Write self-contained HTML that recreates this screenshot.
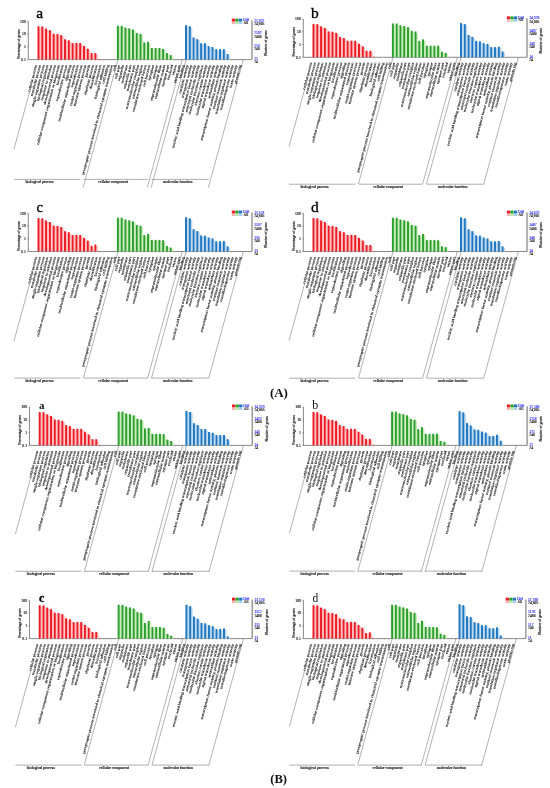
<!DOCTYPE html>
<html><head><meta charset="utf-8"><title>GO classification</title>
<style>
html,body{margin:0;padding:0;background:#fff;}
body{width:550px;height:788px;overflow:hidden;}
svg{display:block;}
text{font-family:"Liberation Serif","Times New Roman",serif;fill:#111;}
.lt{fill:#000;stroke:#000;stroke-width:0.3px;}
.lt2{fill:#111;}
.ax{stroke:#6b6b6b;stroke-width:0.8;}
.axr{stroke:#8a8a8a;stroke-width:1.3;}
.tk{font-size:3.8px;stroke:#111;stroke-width:0.12px;}
.yt{font-size:3.7px;stroke:#111;stroke-width:0.15px;}
.rb{font-size:3.7px;fill:#2b2bff;stroke:#2b2bff;stroke-width:0.12px;}
.rk{font-size:3.7px;fill:#111;stroke:#111;stroke-width:0.12px;}
.xl{font-size:4.48px;fill:#1a1a1a;stroke:#1a1a1a;stroke-width:0.16px;}
.tm{stroke:#999;stroke-width:0.4;}
.br{stroke:#555;stroke-width:0.45;}
.hl{stroke:#777;stroke-width:0.6;}
.ct{font-size:3.9px;stroke:#111;stroke-width:0.15px;}
.big{font-size:13px;font-weight:bold;fill:#111;}
</style></head>
<body>
<svg width="550" height="788" viewBox="0 0 550 788">
<defs><filter id="soft" x="-5%" y="-5%" width="110%" height="110%"><feGaussianBlur stdDeviation="0.28"/></filter></defs>
<rect width="550" height="788" fill="#fff"/>
<g>
<text x="36.2" y="17.9" font-size="15.5" font-weight="normal" class="lt">a</text>
<line x1="28.3" y1="21.3" x2="28.3" y2="59.6" class="ax"/>
<line x1="28.3" y1="59.6" x2="252" y2="59.6" class="ax"/>
<line x1="252" y1="20.5" x2="252" y2="59.6" class="axr"/>
<text x="25.8" y="22.6" class="tk" text-anchor="end">100</text>
<line x1="27.3" y1="21.3" x2="28.3" y2="21.3" class="ax"/>
<text x="25.8" y="35.37" class="tk" text-anchor="end">10</text>
<line x1="27.3" y1="34.07" x2="28.3" y2="34.07" class="ax"/>
<text x="25.8" y="48.13" class="tk" text-anchor="end">1</text>
<line x1="27.3" y1="46.83" x2="28.3" y2="46.83" class="ax"/>
<text x="25.8" y="60.9" class="tk" text-anchor="end">0.1</text>
<line x1="27.3" y1="59.6" x2="28.3" y2="59.6" class="ax"/>
<text transform="translate(19.9,44.1) rotate(-90)" class="yt" text-anchor="middle">Percentage of genes</text>
<text x="254.2" y="21.7" class="rb">21,022</text>
<text x="254.2" y="24.9" class="rk">24,865</text>
<text x="254.2" y="34.47" class="rb">2102</text>
<text x="254.2" y="37.67" class="rk">2486</text>
<text x="254.2" y="47.23" class="rb">210</text>
<text x="254.2" y="50.43" class="rk">248</text>
<text x="254.2" y="60" class="rb">21</text>
<text x="254.2" y="63.2" class="rk">24</text>
<text transform="translate(267.3,43.1) rotate(-90)" class="yt" text-anchor="middle">Number of genes</text>
<rect x="231.8" y="18.7" width="3.3" height="3" fill="#ee1c25"/>
<rect x="231.8" y="21.7" width="3.3" height="2.4" fill="#f7b0b4"/>
<rect x="235.35" y="18.7" width="3.3" height="3" fill="#2ca02c"/>
<rect x="235.35" y="21.7" width="3.3" height="2.4" fill="#b6e6a6"/>
<rect x="238.9" y="18.7" width="3.3" height="3" fill="#1f78c1"/>
<rect x="238.9" y="21.7" width="3.3" height="2.4" fill="#a9cdee"/>
<text x="243" y="21" class="rb">Diff</text>
<text x="243.6" y="23.7" class="rk">All</text>
<rect x="39.4" y="27.4" width="1.6" height="32.2" fill="#f9c4c4"/>
<rect x="37.5" y="26.2" width="2.0" height="33.4" fill="#ee1c25"/>
<rect x="43.19" y="27.6" width="1.6" height="32" fill="#f9c4c4"/>
<rect x="41.29" y="26.4" width="2.0" height="33.2" fill="#ee1c25"/>
<rect x="46.98" y="29.8" width="1.6" height="29.8" fill="#f9c4c4"/>
<rect x="45.08" y="28.6" width="2.0" height="31" fill="#ee1c25"/>
<rect x="50.77" y="31.4" width="1.6" height="28.2" fill="#f9c4c4"/>
<rect x="48.87" y="30.2" width="2.0" height="29.4" fill="#ee1c25"/>
<rect x="54.56" y="34.9" width="1.6" height="24.7" fill="#f9c4c4"/>
<rect x="52.66" y="33.7" width="2.0" height="25.9" fill="#ee1c25"/>
<rect x="58.35" y="35.2" width="1.6" height="24.4" fill="#f9c4c4"/>
<rect x="56.45" y="34" width="2.0" height="25.6" fill="#ee1c25"/>
<rect x="62.14" y="36.3" width="1.6" height="23.3" fill="#f9c4c4"/>
<rect x="60.24" y="35.1" width="2.0" height="24.5" fill="#ee1c25"/>
<rect x="65.93" y="40.5" width="1.6" height="19.1" fill="#f9c4c4"/>
<rect x="64.03" y="39.3" width="2.0" height="20.3" fill="#ee1c25"/>
<rect x="69.72" y="41.5" width="1.6" height="18.1" fill="#f9c4c4"/>
<rect x="67.82" y="40.3" width="2.0" height="19.3" fill="#ee1c25"/>
<rect x="73.51" y="44.3" width="1.6" height="15.3" fill="#f9c4c4"/>
<rect x="71.61" y="43.1" width="2.0" height="16.5" fill="#ee1c25"/>
<rect x="77.3" y="44.1" width="1.6" height="15.5" fill="#f9c4c4"/>
<rect x="75.4" y="42.9" width="2.0" height="16.7" fill="#ee1c25"/>
<rect x="81.09" y="44.3" width="1.6" height="15.3" fill="#f9c4c4"/>
<rect x="79.19" y="43.1" width="2.0" height="16.5" fill="#ee1c25"/>
<rect x="84.88" y="47.2" width="1.6" height="12.4" fill="#f9c4c4"/>
<rect x="82.98" y="46" width="2.0" height="13.6" fill="#ee1c25"/>
<rect x="88.67" y="49.9" width="1.6" height="9.7" fill="#f9c4c4"/>
<rect x="86.77" y="48.7" width="2.0" height="10.9" fill="#ee1c25"/>
<rect x="92.46" y="54.3" width="1.6" height="5.3" fill="#f9c4c4"/>
<rect x="90.56" y="53.1" width="2.0" height="6.5" fill="#ee1c25"/>
<rect x="96.25" y="54.3" width="1.6" height="5.3" fill="#f9c4c4"/>
<rect x="94.35" y="53.1" width="2.0" height="6.5" fill="#ee1c25"/>
<rect x="100.04" y="59.3" width="1.6" height="0.3" fill="#f9c4c4"/>
<rect x="98.14" y="59.1" width="2.0" height="0.5" fill="#ee1c25"/>
<line x1="38.5" y1="59.6" x2="38.5" y2="60.6" class="tm"/>
<line x1="42.29" y1="59.6" x2="42.29" y2="60.6" class="tm"/>
<line x1="46.08" y1="59.6" x2="46.08" y2="60.6" class="tm"/>
<line x1="49.87" y1="59.6" x2="49.87" y2="60.6" class="tm"/>
<line x1="53.66" y1="59.6" x2="53.66" y2="60.6" class="tm"/>
<line x1="57.45" y1="59.6" x2="57.45" y2="60.6" class="tm"/>
<line x1="61.24" y1="59.6" x2="61.24" y2="60.6" class="tm"/>
<line x1="65.03" y1="59.6" x2="65.03" y2="60.6" class="tm"/>
<line x1="68.82" y1="59.6" x2="68.82" y2="60.6" class="tm"/>
<line x1="72.61" y1="59.6" x2="72.61" y2="60.6" class="tm"/>
<line x1="76.4" y1="59.6" x2="76.4" y2="60.6" class="tm"/>
<line x1="80.19" y1="59.6" x2="80.19" y2="60.6" class="tm"/>
<line x1="83.98" y1="59.6" x2="83.98" y2="60.6" class="tm"/>
<line x1="87.77" y1="59.6" x2="87.77" y2="60.6" class="tm"/>
<line x1="91.56" y1="59.6" x2="91.56" y2="60.6" class="tm"/>
<line x1="95.35" y1="59.6" x2="95.35" y2="60.6" class="tm"/>
<line x1="99.14" y1="59.6" x2="99.14" y2="60.6" class="tm"/>
<line x1="102.93" y1="59.6" x2="102.93" y2="60.6" class="tm"/>
<line x1="106.72" y1="59.6" x2="106.72" y2="60.6" class="tm"/>
<line x1="110.51" y1="59.6" x2="110.51" y2="60.6" class="tm"/>
<line x1="114.3" y1="59.6" x2="114.3" y2="60.6" class="tm"/>
<line x1="29.66" y1="91.6" x2="14" y2="148.98" class="br"/>
<line x1="14" y1="179.4" x2="80.4" y2="179.4" class="hl"/>
<text x="25.4" y="182.9" class="ct">biological process</text>
<rect x="118.8" y="27" width="1.6" height="32.6" fill="#cdeebc"/>
<rect x="116.9" y="25.8" width="2.0" height="33.8" fill="#2ca02c"/>
<rect x="122.57" y="27" width="1.6" height="32.6" fill="#cdeebc"/>
<rect x="120.67" y="25.8" width="2.0" height="33.8" fill="#2ca02c"/>
<rect x="126.34" y="28.8" width="1.6" height="30.8" fill="#cdeebc"/>
<rect x="124.44" y="27.6" width="2.0" height="32" fill="#2ca02c"/>
<rect x="130.11" y="29.6" width="1.6" height="30" fill="#cdeebc"/>
<rect x="128.21" y="28.4" width="2.0" height="31.2" fill="#2ca02c"/>
<rect x="133.88" y="30.7" width="1.6" height="28.9" fill="#cdeebc"/>
<rect x="131.98" y="29.5" width="2.0" height="30.1" fill="#2ca02c"/>
<rect x="137.65" y="34.3" width="1.6" height="25.3" fill="#cdeebc"/>
<rect x="135.75" y="33.1" width="2.0" height="26.5" fill="#2ca02c"/>
<rect x="141.42" y="35" width="1.6" height="24.6" fill="#cdeebc"/>
<rect x="139.52" y="33.8" width="2.0" height="25.8" fill="#2ca02c"/>
<rect x="145.19" y="43.6" width="1.6" height="16" fill="#cdeebc"/>
<rect x="143.29" y="42.4" width="2.0" height="17.2" fill="#2ca02c"/>
<rect x="148.96" y="43" width="1.6" height="16.6" fill="#cdeebc"/>
<rect x="147.06" y="41.8" width="2.0" height="17.8" fill="#2ca02c"/>
<rect x="152.73" y="49.2" width="1.6" height="10.4" fill="#cdeebc"/>
<rect x="150.83" y="48" width="2.0" height="11.6" fill="#2ca02c"/>
<rect x="156.5" y="49.2" width="1.6" height="10.4" fill="#cdeebc"/>
<rect x="154.6" y="48" width="2.0" height="11.6" fill="#2ca02c"/>
<rect x="160.27" y="49.2" width="1.6" height="10.4" fill="#cdeebc"/>
<rect x="158.37" y="48" width="2.0" height="11.6" fill="#2ca02c"/>
<rect x="164.04" y="50.1" width="1.6" height="9.5" fill="#cdeebc"/>
<rect x="162.14" y="48.9" width="2.0" height="10.7" fill="#2ca02c"/>
<rect x="167.81" y="54.3" width="1.6" height="5.3" fill="#cdeebc"/>
<rect x="165.91" y="53.1" width="2.0" height="6.5" fill="#2ca02c"/>
<rect x="171.58" y="56.3" width="1.6" height="3.3" fill="#cdeebc"/>
<rect x="169.68" y="55.1" width="2.0" height="4.5" fill="#2ca02c"/>
<line x1="117.9" y1="59.6" x2="117.9" y2="60.6" class="tm"/>
<line x1="121.67" y1="59.6" x2="121.67" y2="60.6" class="tm"/>
<line x1="125.44" y1="59.6" x2="125.44" y2="60.6" class="tm"/>
<line x1="129.21" y1="59.6" x2="129.21" y2="60.6" class="tm"/>
<line x1="132.98" y1="59.6" x2="132.98" y2="60.6" class="tm"/>
<line x1="136.75" y1="59.6" x2="136.75" y2="60.6" class="tm"/>
<line x1="140.52" y1="59.6" x2="140.52" y2="60.6" class="tm"/>
<line x1="144.29" y1="59.6" x2="144.29" y2="60.6" class="tm"/>
<line x1="148.06" y1="59.6" x2="148.06" y2="60.6" class="tm"/>
<line x1="151.83" y1="59.6" x2="151.83" y2="60.6" class="tm"/>
<line x1="155.6" y1="59.6" x2="155.6" y2="60.6" class="tm"/>
<line x1="159.37" y1="59.6" x2="159.37" y2="60.6" class="tm"/>
<line x1="163.14" y1="59.6" x2="163.14" y2="60.6" class="tm"/>
<line x1="166.91" y1="59.6" x2="166.91" y2="60.6" class="tm"/>
<line x1="170.68" y1="59.6" x2="170.68" y2="60.6" class="tm"/>
<line x1="174.45" y1="59.6" x2="174.45" y2="60.6" class="tm"/>
<line x1="178.22" y1="59.6" x2="178.22" y2="60.6" class="tm"/>
<line x1="181.99" y1="59.6" x2="181.99" y2="60.6" class="tm"/>
<line x1="117.89" y1="60" x2="83.06" y2="187.6" class="br"/>
<line x1="182.2" y1="60" x2="147.26" y2="187.6" class="br"/>
<line x1="83.9" y1="179.4" x2="147.6" y2="179.4" class="hl"/>
<text x="98.2" y="182.9" class="ct">cellular component</text>
<rect x="186.9" y="26.4" width="1.6" height="33.2" fill="#bfdaf0"/>
<rect x="185" y="25.2" width="2.0" height="34.4" fill="#1f78c1"/>
<rect x="190.68" y="27.4" width="1.6" height="32.2" fill="#bfdaf0"/>
<rect x="188.78" y="26.2" width="2.0" height="33.4" fill="#1f78c1"/>
<rect x="194.46" y="38.6" width="1.6" height="21" fill="#bfdaf0"/>
<rect x="192.56" y="37.4" width="2.0" height="22.2" fill="#1f78c1"/>
<rect x="198.24" y="40.4" width="1.6" height="19.2" fill="#bfdaf0"/>
<rect x="196.34" y="39.2" width="2.0" height="20.4" fill="#1f78c1"/>
<rect x="202.02" y="44.4" width="1.6" height="15.2" fill="#bfdaf0"/>
<rect x="200.12" y="43.2" width="2.0" height="16.4" fill="#1f78c1"/>
<rect x="205.8" y="44.4" width="1.6" height="15.2" fill="#bfdaf0"/>
<rect x="203.9" y="43.2" width="2.0" height="16.4" fill="#1f78c1"/>
<rect x="209.58" y="47.4" width="1.6" height="12.2" fill="#bfdaf0"/>
<rect x="207.68" y="46.2" width="2.0" height="13.4" fill="#1f78c1"/>
<rect x="213.36" y="48.2" width="1.6" height="11.4" fill="#bfdaf0"/>
<rect x="211.46" y="47" width="2.0" height="12.6" fill="#1f78c1"/>
<rect x="217.14" y="50.4" width="1.6" height="9.2" fill="#bfdaf0"/>
<rect x="215.24" y="49.2" width="2.0" height="10.4" fill="#1f78c1"/>
<rect x="220.92" y="50.4" width="1.6" height="9.2" fill="#bfdaf0"/>
<rect x="219.02" y="49.2" width="2.0" height="10.4" fill="#1f78c1"/>
<rect x="224.7" y="50.4" width="1.6" height="9.2" fill="#bfdaf0"/>
<rect x="222.8" y="49.2" width="2.0" height="10.4" fill="#1f78c1"/>
<rect x="228.48" y="55.3" width="1.6" height="4.3" fill="#bfdaf0"/>
<rect x="226.58" y="54.1" width="2.0" height="5.5" fill="#1f78c1"/>
<line x1="186" y1="59.6" x2="186" y2="60.6" class="tm"/>
<line x1="189.78" y1="59.6" x2="189.78" y2="60.6" class="tm"/>
<line x1="193.56" y1="59.6" x2="193.56" y2="60.6" class="tm"/>
<line x1="197.34" y1="59.6" x2="197.34" y2="60.6" class="tm"/>
<line x1="201.12" y1="59.6" x2="201.12" y2="60.6" class="tm"/>
<line x1="204.9" y1="59.6" x2="204.9" y2="60.6" class="tm"/>
<line x1="208.68" y1="59.6" x2="208.68" y2="60.6" class="tm"/>
<line x1="212.46" y1="59.6" x2="212.46" y2="60.6" class="tm"/>
<line x1="216.24" y1="59.6" x2="216.24" y2="60.6" class="tm"/>
<line x1="220.02" y1="59.6" x2="220.02" y2="60.6" class="tm"/>
<line x1="223.8" y1="59.6" x2="223.8" y2="60.6" class="tm"/>
<line x1="227.58" y1="59.6" x2="227.58" y2="60.6" class="tm"/>
<line x1="231.36" y1="59.6" x2="231.36" y2="60.6" class="tm"/>
<line x1="235.14" y1="59.6" x2="235.14" y2="60.6" class="tm"/>
<line x1="238.92" y1="59.6" x2="238.92" y2="60.6" class="tm"/>
<line x1="242.7" y1="59.6" x2="242.7" y2="60.6" class="tm"/>
<line x1="185.99" y1="60" x2="151.16" y2="187.6" class="br"/>
<line x1="243.3" y1="60" x2="208.36" y2="187.6" class="br"/>
<line x1="151.5" y1="179.4" x2="208.7" y2="179.4" class="hl"/>
<text x="163" y="182.9" class="ct">molecular function</text>
<g filter="url(#soft)">
<text transform="translate(37,65.2) rotate(-75.2) scale(1,0.72)" class="xl" text-anchor="end">cellular process</text>
<text transform="translate(40.79,65.2) rotate(-75.2) scale(1,0.72)" class="xl" text-anchor="end">metabolic process</text>
<text transform="translate(44.58,65.2) rotate(-75.2) scale(1,0.72)" class="xl" text-anchor="end">single-organism process</text>
<text transform="translate(48.37,65.2) rotate(-75.2) scale(1,0.72)" class="xl" text-anchor="end">biological regulation</text>
<text transform="translate(52.16,65.2) rotate(-75.2) scale(1,0.72)" class="xl" text-anchor="end">response to stimulus</text>
<text transform="translate(55.95,65.2) rotate(-75.2) scale(1,0.72)" class="xl" text-anchor="end">developmental process</text>
<text transform="translate(59.74,65.2) rotate(-75.2) scale(1,0.72)" class="xl" text-anchor="end">cellular component organization or biogenesis</text>
<text transform="translate(63.53,65.2) rotate(-75.2) scale(1,0.72)" class="xl" text-anchor="end">localization</text>
<text transform="translate(67.32,65.2) rotate(-75.2) scale(1,0.72)" class="xl" text-anchor="end">reproductive process</text>
<text transform="translate(71.11,65.2) rotate(-75.2) scale(1,0.72)" class="xl" text-anchor="end">signaling</text>
<text transform="translate(74.9,65.2) rotate(-75.2) scale(1,0.72)" class="xl" text-anchor="end">multicellular organismal process</text>
<text transform="translate(78.69,65.2) rotate(-75.2) scale(1,0.72)" class="xl" text-anchor="end">reproduction</text>
<text transform="translate(82.48,65.2) rotate(-75.2) scale(1,0.72)" class="xl" text-anchor="end">multi-organism process</text>
<text transform="translate(86.27,65.2) rotate(-75.2) scale(1,0.72)" class="xl" text-anchor="end">immune system process</text>
<text transform="translate(90.06,65.2) rotate(-75.2) scale(1,0.72)" class="xl" text-anchor="end">growth</text>
<text transform="translate(93.85,65.2) rotate(-75.2) scale(1,0.72)" class="xl" text-anchor="end">rhythmic process</text>
<text transform="translate(97.64,65.2) rotate(-75.2) scale(1,0.72)" class="xl" text-anchor="end">detoxification</text>
<text transform="translate(101.43,65.2) rotate(-75.2) scale(1,0.72)" class="xl" text-anchor="end">locomotion</text>
<text transform="translate(105.22,65.2) rotate(-75.2) scale(1,0.72)" class="xl" text-anchor="end">biological adhesion</text>
<text transform="translate(109.01,65.2) rotate(-75.2) scale(1,0.72)" class="xl" text-anchor="end">cell killing</text>
<text transform="translate(112.8,65.2) rotate(-75.2) scale(1,0.72)" class="xl" text-anchor="end">presynaptic process involved in chemical synaptic transmission</text>
<text transform="translate(116.4,65.2) rotate(-75.2) scale(1,0.72)" class="xl" text-anchor="end">cell</text>
<text transform="translate(120.17,65.2) rotate(-75.2) scale(1,0.72)" class="xl" text-anchor="end">cell part</text>
<text transform="translate(123.94,65.2) rotate(-75.2) scale(1,0.72)" class="xl" text-anchor="end">organelle</text>
<text transform="translate(127.71,65.2) rotate(-75.2) scale(1,0.72)" class="xl" text-anchor="end">membrane</text>
<text transform="translate(131.48,65.2) rotate(-75.2) scale(1,0.72)" class="xl" text-anchor="end">organelle part</text>
<text transform="translate(135.25,65.2) rotate(-75.2) scale(1,0.72)" class="xl" text-anchor="end">membrane part</text>
<text transform="translate(139.02,65.2) rotate(-75.2) scale(1,0.72)" class="xl" text-anchor="end">macromolecular complex</text>
<text transform="translate(142.79,65.2) rotate(-75.2) scale(1,0.72)" class="xl" text-anchor="end">extracellular region</text>
<text transform="translate(146.56,65.2) rotate(-75.2) scale(1,0.72)" class="xl" text-anchor="end">membrane-enclosed lumen</text>
<text transform="translate(150.33,65.2) rotate(-75.2) scale(1,0.72)" class="xl" text-anchor="end">cell junction</text>
<text transform="translate(154.1,65.2) rotate(-75.2) scale(1,0.72)" class="xl" text-anchor="end">symplast</text>
<text transform="translate(157.87,65.2) rotate(-75.2) scale(1,0.72)" class="xl" text-anchor="end">synapse</text>
<text transform="translate(161.64,65.2) rotate(-75.2) scale(1,0.72)" class="xl" text-anchor="end">supramolecular fiber</text>
<text transform="translate(165.41,65.2) rotate(-75.2) scale(1,0.72)" class="xl" text-anchor="end">extracellular matrix</text>
<text transform="translate(169.18,65.2) rotate(-75.2) scale(1,0.72)" class="xl" text-anchor="end">synapse part</text>
<text transform="translate(172.95,65.2) rotate(-75.2) scale(1,0.72)" class="xl" text-anchor="end">nucleoid</text>
<text transform="translate(176.72,65.2) rotate(-75.2) scale(1,0.72)" class="xl" text-anchor="end">virion</text>
<text transform="translate(180.49,65.2) rotate(-75.2) scale(1,0.72)" class="xl" text-anchor="end">virion part</text>
<text transform="translate(184.5,65.2) rotate(-75.2) scale(1,0.72)" class="xl" text-anchor="end">binding</text>
<text transform="translate(188.28,65.2) rotate(-75.2) scale(1,0.72)" class="xl" text-anchor="end">catalytic activity</text>
<text transform="translate(192.06,65.2) rotate(-75.2) scale(1,0.72)" class="xl" text-anchor="end">transporter activity</text>
<text transform="translate(195.84,65.2) rotate(-75.2) scale(1,0.72)" class="xl" text-anchor="end">nucleic acid binding transcription factor activity</text>
<text transform="translate(199.62,65.2) rotate(-75.2) scale(1,0.72)" class="xl" text-anchor="end">structural molecule activity</text>
<text transform="translate(203.4,65.2) rotate(-75.2) scale(1,0.72)" class="xl" text-anchor="end">molecular function regulator</text>
<text transform="translate(207.18,65.2) rotate(-75.2) scale(1,0.72)" class="xl" text-anchor="end">electron carrier activity</text>
<text transform="translate(210.96,65.2) rotate(-75.2) scale(1,0.72)" class="xl" text-anchor="end">molecular transducer activity</text>
<text transform="translate(214.74,65.2) rotate(-75.2) scale(1,0.72)" class="xl" text-anchor="end">signal transducer activity</text>
<text transform="translate(218.52,65.2) rotate(-75.2) scale(1,0.72)" class="xl" text-anchor="end">antioxidant activity</text>
<text transform="translate(222.3,65.2) rotate(-75.2) scale(1,0.72)" class="xl" text-anchor="end">transcription factor activity, protein binding</text>
<text transform="translate(226.08,65.2) rotate(-75.2) scale(1,0.72)" class="xl" text-anchor="end">nutrient reservoir activity</text>
<text transform="translate(229.86,65.2) rotate(-75.2) scale(1,0.72)" class="xl" text-anchor="end">translation regulator activity</text>
<text transform="translate(233.64,65.2) rotate(-75.2) scale(1,0.72)" class="xl" text-anchor="end">metallochaperone activity</text>
<text transform="translate(237.42,65.2) rotate(-75.2) scale(1,0.72)" class="xl" text-anchor="end">toxin activity</text>
<text transform="translate(241.2,65.2) rotate(-75.2) scale(1,0.72)" class="xl" text-anchor="end">protein tag</text>
</g>
</g>
<g>
<text x="311" y="18.2" font-size="15.5" font-weight="normal" class="lt">b</text>
<line x1="303.3" y1="19" x2="303.3" y2="57.3" class="ax"/>
<line x1="303.3" y1="57.3" x2="527" y2="57.3" class="ax"/>
<line x1="527" y1="18.2" x2="527" y2="57.3" class="axr"/>
<text x="300.8" y="20.3" class="tk" text-anchor="end">100</text>
<line x1="302.3" y1="19" x2="303.3" y2="19" class="ax"/>
<text x="300.8" y="33.07" class="tk" text-anchor="end">10</text>
<line x1="302.3" y1="31.77" x2="303.3" y2="31.77" class="ax"/>
<text x="300.8" y="45.83" class="tk" text-anchor="end">1</text>
<line x1="302.3" y1="44.53" x2="303.3" y2="44.53" class="ax"/>
<text x="300.8" y="58.6" class="tk" text-anchor="end">0.1</text>
<line x1="302.3" y1="57.3" x2="303.3" y2="57.3" class="ax"/>
<text transform="translate(294.9,41.8) rotate(-90)" class="yt" text-anchor="middle">Percentage of genes</text>
<text x="529.2" y="19.4" class="rb">14,078</text>
<text x="529.2" y="22.6" class="rk">24,865</text>
<text x="529.2" y="32.17" class="rb">1407</text>
<text x="529.2" y="35.37" class="rk">2486</text>
<text x="529.2" y="44.93" class="rb">140</text>
<text x="529.2" y="48.13" class="rk">248</text>
<text x="529.2" y="57.7" class="rb">14</text>
<text x="529.2" y="60.9" class="rk">24</text>
<text transform="translate(542.3,40.8) rotate(-90)" class="yt" text-anchor="middle">Number of genes</text>
<rect x="506.8" y="16.4" width="3.3" height="3" fill="#ee1c25"/>
<rect x="506.8" y="19.4" width="3.3" height="2.4" fill="#f7b0b4"/>
<rect x="510.35" y="16.4" width="3.3" height="3" fill="#2ca02c"/>
<rect x="510.35" y="19.4" width="3.3" height="2.4" fill="#b6e6a6"/>
<rect x="513.9" y="16.4" width="3.3" height="3" fill="#1f78c1"/>
<rect x="513.9" y="19.4" width="3.3" height="2.4" fill="#a9cdee"/>
<text x="518" y="18.7" class="rb">Diff</text>
<text x="518.6" y="21.4" class="rk">All</text>
<rect x="314.4" y="25.1" width="1.6" height="32.2" fill="#f9c4c4"/>
<rect x="312.5" y="23.9" width="2.0" height="33.4" fill="#ee1c25"/>
<rect x="318.19" y="25.3" width="1.6" height="32" fill="#f9c4c4"/>
<rect x="316.29" y="24.1" width="2.0" height="33.2" fill="#ee1c25"/>
<rect x="321.98" y="27.5" width="1.6" height="29.8" fill="#f9c4c4"/>
<rect x="320.08" y="26.3" width="2.0" height="31" fill="#ee1c25"/>
<rect x="325.77" y="29.1" width="1.6" height="28.2" fill="#f9c4c4"/>
<rect x="323.87" y="27.9" width="2.0" height="29.4" fill="#ee1c25"/>
<rect x="329.56" y="32.6" width="1.6" height="24.7" fill="#f9c4c4"/>
<rect x="327.66" y="31.4" width="2.0" height="25.9" fill="#ee1c25"/>
<rect x="333.35" y="32.9" width="1.6" height="24.4" fill="#f9c4c4"/>
<rect x="331.45" y="31.7" width="2.0" height="25.6" fill="#ee1c25"/>
<rect x="337.14" y="34" width="1.6" height="23.3" fill="#f9c4c4"/>
<rect x="335.24" y="32.8" width="2.0" height="24.5" fill="#ee1c25"/>
<rect x="340.93" y="38.2" width="1.6" height="19.1" fill="#f9c4c4"/>
<rect x="339.03" y="37" width="2.0" height="20.3" fill="#ee1c25"/>
<rect x="344.72" y="39.2" width="1.6" height="18.1" fill="#f9c4c4"/>
<rect x="342.82" y="38" width="2.0" height="19.3" fill="#ee1c25"/>
<rect x="348.51" y="42" width="1.6" height="15.3" fill="#f9c4c4"/>
<rect x="346.61" y="40.8" width="2.0" height="16.5" fill="#ee1c25"/>
<rect x="352.3" y="41.8" width="1.6" height="15.5" fill="#f9c4c4"/>
<rect x="350.4" y="40.6" width="2.0" height="16.7" fill="#ee1c25"/>
<rect x="356.09" y="42" width="1.6" height="15.3" fill="#f9c4c4"/>
<rect x="354.19" y="40.8" width="2.0" height="16.5" fill="#ee1c25"/>
<rect x="359.88" y="44.9" width="1.6" height="12.4" fill="#f9c4c4"/>
<rect x="357.98" y="43.7" width="2.0" height="13.6" fill="#ee1c25"/>
<rect x="363.67" y="47.6" width="1.6" height="9.7" fill="#f9c4c4"/>
<rect x="361.77" y="46.4" width="2.0" height="10.9" fill="#ee1c25"/>
<rect x="367.46" y="52" width="1.6" height="5.3" fill="#f9c4c4"/>
<rect x="365.56" y="50.8" width="2.0" height="6.5" fill="#ee1c25"/>
<rect x="371.25" y="52" width="1.6" height="5.3" fill="#f9c4c4"/>
<rect x="369.35" y="50.8" width="2.0" height="6.5" fill="#ee1c25"/>
<rect x="375.04" y="57" width="1.6" height="0.3" fill="#f9c4c4"/>
<rect x="373.14" y="56.8" width="2.0" height="0.5" fill="#ee1c25"/>
<line x1="313.5" y1="57.3" x2="313.5" y2="58.3" class="tm"/>
<line x1="317.29" y1="57.3" x2="317.29" y2="58.3" class="tm"/>
<line x1="321.08" y1="57.3" x2="321.08" y2="58.3" class="tm"/>
<line x1="324.87" y1="57.3" x2="324.87" y2="58.3" class="tm"/>
<line x1="328.66" y1="57.3" x2="328.66" y2="58.3" class="tm"/>
<line x1="332.45" y1="57.3" x2="332.45" y2="58.3" class="tm"/>
<line x1="336.24" y1="57.3" x2="336.24" y2="58.3" class="tm"/>
<line x1="340.03" y1="57.3" x2="340.03" y2="58.3" class="tm"/>
<line x1="343.82" y1="57.3" x2="343.82" y2="58.3" class="tm"/>
<line x1="347.61" y1="57.3" x2="347.61" y2="58.3" class="tm"/>
<line x1="351.4" y1="57.3" x2="351.4" y2="58.3" class="tm"/>
<line x1="355.19" y1="57.3" x2="355.19" y2="58.3" class="tm"/>
<line x1="358.98" y1="57.3" x2="358.98" y2="58.3" class="tm"/>
<line x1="362.77" y1="57.3" x2="362.77" y2="58.3" class="tm"/>
<line x1="366.56" y1="57.3" x2="366.56" y2="58.3" class="tm"/>
<line x1="370.35" y1="57.3" x2="370.35" y2="58.3" class="tm"/>
<line x1="374.14" y1="57.3" x2="374.14" y2="58.3" class="tm"/>
<line x1="377.93" y1="57.3" x2="377.93" y2="58.3" class="tm"/>
<line x1="381.72" y1="57.3" x2="381.72" y2="58.3" class="tm"/>
<line x1="385.51" y1="57.3" x2="385.51" y2="58.3" class="tm"/>
<line x1="389.3" y1="57.3" x2="389.3" y2="58.3" class="tm"/>
<line x1="304.66" y1="89.3" x2="289" y2="146.68" class="br"/>
<line x1="289" y1="184.2" x2="355.4" y2="184.2" class="hl"/>
<text x="300.4" y="187.7" class="ct">biological process</text>
<rect x="393.8" y="24.7" width="1.6" height="32.6" fill="#cdeebc"/>
<rect x="391.9" y="23.5" width="2.0" height="33.8" fill="#2ca02c"/>
<rect x="397.57" y="24.7" width="1.6" height="32.6" fill="#cdeebc"/>
<rect x="395.67" y="23.5" width="2.0" height="33.8" fill="#2ca02c"/>
<rect x="401.34" y="26.5" width="1.6" height="30.8" fill="#cdeebc"/>
<rect x="399.44" y="25.3" width="2.0" height="32" fill="#2ca02c"/>
<rect x="405.11" y="27.3" width="1.6" height="30" fill="#cdeebc"/>
<rect x="403.21" y="26.1" width="2.0" height="31.2" fill="#2ca02c"/>
<rect x="408.88" y="28.4" width="1.6" height="28.9" fill="#cdeebc"/>
<rect x="406.98" y="27.2" width="2.0" height="30.1" fill="#2ca02c"/>
<rect x="412.65" y="32" width="1.6" height="25.3" fill="#cdeebc"/>
<rect x="410.75" y="30.8" width="2.0" height="26.5" fill="#2ca02c"/>
<rect x="416.42" y="32.7" width="1.6" height="24.6" fill="#cdeebc"/>
<rect x="414.52" y="31.5" width="2.0" height="25.8" fill="#2ca02c"/>
<rect x="420.19" y="42.1" width="1.6" height="15.2" fill="#cdeebc"/>
<rect x="418.29" y="40.9" width="2.0" height="16.4" fill="#2ca02c"/>
<rect x="423.96" y="40.6" width="1.6" height="16.7" fill="#cdeebc"/>
<rect x="422.06" y="39.4" width="2.0" height="17.9" fill="#2ca02c"/>
<rect x="427.73" y="46.9" width="1.6" height="10.4" fill="#cdeebc"/>
<rect x="425.83" y="45.7" width="2.0" height="11.6" fill="#2ca02c"/>
<rect x="431.5" y="46.9" width="1.6" height="10.4" fill="#cdeebc"/>
<rect x="429.6" y="45.7" width="2.0" height="11.6" fill="#2ca02c"/>
<rect x="435.27" y="46.9" width="1.6" height="10.4" fill="#cdeebc"/>
<rect x="433.37" y="45.7" width="2.0" height="11.6" fill="#2ca02c"/>
<rect x="439.04" y="46.9" width="1.6" height="10.4" fill="#cdeebc"/>
<rect x="437.14" y="45.7" width="2.0" height="11.6" fill="#2ca02c"/>
<rect x="442.81" y="53" width="1.6" height="4.3" fill="#cdeebc"/>
<rect x="440.91" y="51.8" width="2.0" height="5.5" fill="#2ca02c"/>
<rect x="446.58" y="54.1" width="1.6" height="3.2" fill="#cdeebc"/>
<rect x="444.68" y="52.9" width="2.0" height="4.4" fill="#2ca02c"/>
<line x1="392.9" y1="57.3" x2="392.9" y2="58.3" class="tm"/>
<line x1="396.67" y1="57.3" x2="396.67" y2="58.3" class="tm"/>
<line x1="400.44" y1="57.3" x2="400.44" y2="58.3" class="tm"/>
<line x1="404.21" y1="57.3" x2="404.21" y2="58.3" class="tm"/>
<line x1="407.98" y1="57.3" x2="407.98" y2="58.3" class="tm"/>
<line x1="411.75" y1="57.3" x2="411.75" y2="58.3" class="tm"/>
<line x1="415.52" y1="57.3" x2="415.52" y2="58.3" class="tm"/>
<line x1="419.29" y1="57.3" x2="419.29" y2="58.3" class="tm"/>
<line x1="423.06" y1="57.3" x2="423.06" y2="58.3" class="tm"/>
<line x1="426.83" y1="57.3" x2="426.83" y2="58.3" class="tm"/>
<line x1="430.6" y1="57.3" x2="430.6" y2="58.3" class="tm"/>
<line x1="434.37" y1="57.3" x2="434.37" y2="58.3" class="tm"/>
<line x1="438.14" y1="57.3" x2="438.14" y2="58.3" class="tm"/>
<line x1="441.91" y1="57.3" x2="441.91" y2="58.3" class="tm"/>
<line x1="445.68" y1="57.3" x2="445.68" y2="58.3" class="tm"/>
<line x1="449.45" y1="57.3" x2="449.45" y2="58.3" class="tm"/>
<line x1="453.22" y1="57.3" x2="453.22" y2="58.3" class="tm"/>
<line x1="456.99" y1="57.3" x2="456.99" y2="58.3" class="tm"/>
<line x1="392.89" y1="57.7" x2="358.41" y2="184" class="br"/>
<line x1="457.2" y1="57.7" x2="422.61" y2="184" class="br"/>
<line x1="358.9" y1="184.2" x2="422.6" y2="184.2" class="hl"/>
<text x="373.2" y="187.7" class="ct">cellular component</text>
<rect x="461.9" y="24.3" width="1.6" height="33" fill="#bfdaf0"/>
<rect x="460" y="23.1" width="2.0" height="34.2" fill="#1f78c1"/>
<rect x="465.68" y="25.3" width="1.6" height="32" fill="#bfdaf0"/>
<rect x="463.78" y="24.1" width="2.0" height="33.2" fill="#1f78c1"/>
<rect x="469.46" y="36.2" width="1.6" height="21.1" fill="#bfdaf0"/>
<rect x="467.56" y="35" width="2.0" height="22.3" fill="#1f78c1"/>
<rect x="473.24" y="38.1" width="1.6" height="19.2" fill="#bfdaf0"/>
<rect x="471.34" y="36.9" width="2.0" height="20.4" fill="#1f78c1"/>
<rect x="477.02" y="42.1" width="1.6" height="15.2" fill="#bfdaf0"/>
<rect x="475.12" y="40.9" width="2.0" height="16.4" fill="#1f78c1"/>
<rect x="480.8" y="42.5" width="1.6" height="14.8" fill="#bfdaf0"/>
<rect x="478.9" y="41.3" width="2.0" height="16" fill="#1f78c1"/>
<rect x="484.58" y="44.4" width="1.6" height="12.9" fill="#bfdaf0"/>
<rect x="482.68" y="43.2" width="2.0" height="14.1" fill="#1f78c1"/>
<rect x="488.36" y="45.1" width="1.6" height="12.2" fill="#bfdaf0"/>
<rect x="486.46" y="43.9" width="2.0" height="13.4" fill="#1f78c1"/>
<rect x="492.14" y="48.3" width="1.6" height="9" fill="#bfdaf0"/>
<rect x="490.24" y="47.1" width="2.0" height="10.2" fill="#1f78c1"/>
<rect x="495.92" y="48.3" width="1.6" height="9" fill="#bfdaf0"/>
<rect x="494.02" y="47.1" width="2.0" height="10.2" fill="#1f78c1"/>
<rect x="499.7" y="47.9" width="1.6" height="9.4" fill="#bfdaf0"/>
<rect x="497.8" y="46.7" width="2.0" height="10.6" fill="#1f78c1"/>
<rect x="503.48" y="52.7" width="1.6" height="4.6" fill="#bfdaf0"/>
<rect x="501.58" y="51.5" width="2.0" height="5.8" fill="#1f78c1"/>
<line x1="461" y1="57.3" x2="461" y2="58.3" class="tm"/>
<line x1="464.78" y1="57.3" x2="464.78" y2="58.3" class="tm"/>
<line x1="468.56" y1="57.3" x2="468.56" y2="58.3" class="tm"/>
<line x1="472.34" y1="57.3" x2="472.34" y2="58.3" class="tm"/>
<line x1="476.12" y1="57.3" x2="476.12" y2="58.3" class="tm"/>
<line x1="479.9" y1="57.3" x2="479.9" y2="58.3" class="tm"/>
<line x1="483.68" y1="57.3" x2="483.68" y2="58.3" class="tm"/>
<line x1="487.46" y1="57.3" x2="487.46" y2="58.3" class="tm"/>
<line x1="491.24" y1="57.3" x2="491.24" y2="58.3" class="tm"/>
<line x1="495.02" y1="57.3" x2="495.02" y2="58.3" class="tm"/>
<line x1="498.8" y1="57.3" x2="498.8" y2="58.3" class="tm"/>
<line x1="502.58" y1="57.3" x2="502.58" y2="58.3" class="tm"/>
<line x1="506.36" y1="57.3" x2="506.36" y2="58.3" class="tm"/>
<line x1="510.14" y1="57.3" x2="510.14" y2="58.3" class="tm"/>
<line x1="513.92" y1="57.3" x2="513.92" y2="58.3" class="tm"/>
<line x1="517.7" y1="57.3" x2="517.7" y2="58.3" class="tm"/>
<line x1="460.99" y1="57.7" x2="426.51" y2="184" class="br"/>
<line x1="518.3" y1="57.7" x2="483.71" y2="184" class="br"/>
<line x1="426.5" y1="184.2" x2="483.7" y2="184.2" class="hl"/>
<text x="438" y="187.7" class="ct">molecular function</text>
<g filter="url(#soft)">
<text transform="translate(312,62.9) rotate(-75.2) scale(1,0.72)" class="xl" text-anchor="end">cellular process</text>
<text transform="translate(315.79,62.9) rotate(-75.2) scale(1,0.72)" class="xl" text-anchor="end">metabolic process</text>
<text transform="translate(319.58,62.9) rotate(-75.2) scale(1,0.72)" class="xl" text-anchor="end">single-organism process</text>
<text transform="translate(323.37,62.9) rotate(-75.2) scale(1,0.72)" class="xl" text-anchor="end">biological regulation</text>
<text transform="translate(327.16,62.9) rotate(-75.2) scale(1,0.72)" class="xl" text-anchor="end">response to stimulus</text>
<text transform="translate(330.95,62.9) rotate(-75.2) scale(1,0.72)" class="xl" text-anchor="end">developmental process</text>
<text transform="translate(334.74,62.9) rotate(-75.2) scale(1,0.72)" class="xl" text-anchor="end">cellular component organization or biogenesis</text>
<text transform="translate(338.53,62.9) rotate(-75.2) scale(1,0.72)" class="xl" text-anchor="end">localization</text>
<text transform="translate(342.32,62.9) rotate(-75.2) scale(1,0.72)" class="xl" text-anchor="end">reproductive process</text>
<text transform="translate(346.11,62.9) rotate(-75.2) scale(1,0.72)" class="xl" text-anchor="end">signaling</text>
<text transform="translate(349.9,62.9) rotate(-75.2) scale(1,0.72)" class="xl" text-anchor="end">multicellular organismal process</text>
<text transform="translate(353.69,62.9) rotate(-75.2) scale(1,0.72)" class="xl" text-anchor="end">reproduction</text>
<text transform="translate(357.48,62.9) rotate(-75.2) scale(1,0.72)" class="xl" text-anchor="end">multi-organism process</text>
<text transform="translate(361.27,62.9) rotate(-75.2) scale(1,0.72)" class="xl" text-anchor="end">immune system process</text>
<text transform="translate(365.06,62.9) rotate(-75.2) scale(1,0.72)" class="xl" text-anchor="end">growth</text>
<text transform="translate(368.85,62.9) rotate(-75.2) scale(1,0.72)" class="xl" text-anchor="end">rhythmic process</text>
<text transform="translate(372.64,62.9) rotate(-75.2) scale(1,0.72)" class="xl" text-anchor="end">detoxification</text>
<text transform="translate(376.43,62.9) rotate(-75.2) scale(1,0.72)" class="xl" text-anchor="end">locomotion</text>
<text transform="translate(380.22,62.9) rotate(-75.2) scale(1,0.72)" class="xl" text-anchor="end">biological adhesion</text>
<text transform="translate(384.01,62.9) rotate(-75.2) scale(1,0.72)" class="xl" text-anchor="end">cell killing</text>
<text transform="translate(387.8,62.9) rotate(-75.2) scale(1,0.72)" class="xl" text-anchor="end">presynaptic process involved in chemical synaptic transmission</text>
<text transform="translate(391.4,62.9) rotate(-75.2) scale(1,0.72)" class="xl" text-anchor="end">cell</text>
<text transform="translate(395.17,62.9) rotate(-75.2) scale(1,0.72)" class="xl" text-anchor="end">cell part</text>
<text transform="translate(398.94,62.9) rotate(-75.2) scale(1,0.72)" class="xl" text-anchor="end">organelle</text>
<text transform="translate(402.71,62.9) rotate(-75.2) scale(1,0.72)" class="xl" text-anchor="end">membrane</text>
<text transform="translate(406.48,62.9) rotate(-75.2) scale(1,0.72)" class="xl" text-anchor="end">organelle part</text>
<text transform="translate(410.25,62.9) rotate(-75.2) scale(1,0.72)" class="xl" text-anchor="end">membrane part</text>
<text transform="translate(414.02,62.9) rotate(-75.2) scale(1,0.72)" class="xl" text-anchor="end">macromolecular complex</text>
<text transform="translate(417.79,62.9) rotate(-75.2) scale(1,0.72)" class="xl" text-anchor="end">extracellular region</text>
<text transform="translate(421.56,62.9) rotate(-75.2) scale(1,0.72)" class="xl" text-anchor="end">membrane-enclosed lumen</text>
<text transform="translate(425.33,62.9) rotate(-75.2) scale(1,0.72)" class="xl" text-anchor="end">cell junction</text>
<text transform="translate(429.1,62.9) rotate(-75.2) scale(1,0.72)" class="xl" text-anchor="end">symplast</text>
<text transform="translate(432.87,62.9) rotate(-75.2) scale(1,0.72)" class="xl" text-anchor="end">synapse</text>
<text transform="translate(436.64,62.9) rotate(-75.2) scale(1,0.72)" class="xl" text-anchor="end">supramolecular fiber</text>
<text transform="translate(440.41,62.9) rotate(-75.2) scale(1,0.72)" class="xl" text-anchor="end">extracellular matrix</text>
<text transform="translate(444.18,62.9) rotate(-75.2) scale(1,0.72)" class="xl" text-anchor="end">synapse part</text>
<text transform="translate(447.95,62.9) rotate(-75.2) scale(1,0.72)" class="xl" text-anchor="end">nucleoid</text>
<text transform="translate(451.72,62.9) rotate(-75.2) scale(1,0.72)" class="xl" text-anchor="end">virion</text>
<text transform="translate(455.49,62.9) rotate(-75.2) scale(1,0.72)" class="xl" text-anchor="end">virion part</text>
<text transform="translate(459.5,62.9) rotate(-75.2) scale(1,0.72)" class="xl" text-anchor="end">binding</text>
<text transform="translate(463.28,62.9) rotate(-75.2) scale(1,0.72)" class="xl" text-anchor="end">catalytic activity</text>
<text transform="translate(467.06,62.9) rotate(-75.2) scale(1,0.72)" class="xl" text-anchor="end">transporter activity</text>
<text transform="translate(470.84,62.9) rotate(-75.2) scale(1,0.72)" class="xl" text-anchor="end">nucleic acid binding transcription factor activity</text>
<text transform="translate(474.62,62.9) rotate(-75.2) scale(1,0.72)" class="xl" text-anchor="end">structural molecule activity</text>
<text transform="translate(478.4,62.9) rotate(-75.2) scale(1,0.72)" class="xl" text-anchor="end">molecular function regulator</text>
<text transform="translate(482.18,62.9) rotate(-75.2) scale(1,0.72)" class="xl" text-anchor="end">electron carrier activity</text>
<text transform="translate(485.96,62.9) rotate(-75.2) scale(1,0.72)" class="xl" text-anchor="end">molecular transducer activity</text>
<text transform="translate(489.74,62.9) rotate(-75.2) scale(1,0.72)" class="xl" text-anchor="end">signal transducer activity</text>
<text transform="translate(493.52,62.9) rotate(-75.2) scale(1,0.72)" class="xl" text-anchor="end">antioxidant activity</text>
<text transform="translate(497.3,62.9) rotate(-75.2) scale(1,0.72)" class="xl" text-anchor="end">transcription factor activity, protein binding</text>
<text transform="translate(501.08,62.9) rotate(-75.2) scale(1,0.72)" class="xl" text-anchor="end">nutrient reservoir activity</text>
<text transform="translate(504.86,62.9) rotate(-75.2) scale(1,0.72)" class="xl" text-anchor="end">translation regulator activity</text>
<text transform="translate(508.64,62.9) rotate(-75.2) scale(1,0.72)" class="xl" text-anchor="end">metallochaperone activity</text>
<text transform="translate(512.42,62.9) rotate(-75.2) scale(1,0.72)" class="xl" text-anchor="end">toxin activity</text>
<text transform="translate(516.2,62.9) rotate(-75.2) scale(1,0.72)" class="xl" text-anchor="end">protein tag</text>
</g>
</g>
<g>
<text x="36.4" y="212.3" font-size="14.5" font-weight="normal" class="lt">c</text>
<line x1="28.3" y1="213.2" x2="28.3" y2="251.5" class="ax"/>
<line x1="28.3" y1="251.5" x2="252" y2="251.5" class="ax"/>
<line x1="252" y1="212.4" x2="252" y2="251.5" class="axr"/>
<text x="25.8" y="214.5" class="tk" text-anchor="end">100</text>
<line x1="27.3" y1="213.2" x2="28.3" y2="213.2" class="ax"/>
<text x="25.8" y="227.27" class="tk" text-anchor="end">10</text>
<line x1="27.3" y1="225.97" x2="28.3" y2="225.97" class="ax"/>
<text x="25.8" y="240.03" class="tk" text-anchor="end">1</text>
<line x1="27.3" y1="238.73" x2="28.3" y2="238.73" class="ax"/>
<text x="25.8" y="252.8" class="tk" text-anchor="end">0.1</text>
<line x1="27.3" y1="251.5" x2="28.3" y2="251.5" class="ax"/>
<text transform="translate(19.9,236) rotate(-90)" class="yt" text-anchor="middle">Percentage of genes</text>
<text x="254.2" y="213.6" class="rb">13,578</text>
<text x="254.2" y="216.8" class="rk">24,865</text>
<text x="254.2" y="226.37" class="rb">1357</text>
<text x="254.2" y="229.57" class="rk">2486</text>
<text x="254.2" y="239.13" class="rb">135</text>
<text x="254.2" y="242.33" class="rk">248</text>
<text x="254.2" y="251.9" class="rb">13</text>
<text x="254.2" y="255.1" class="rk">24</text>
<text transform="translate(267.3,235) rotate(-90)" class="yt" text-anchor="middle">Number of genes</text>
<rect x="231.8" y="210.6" width="3.3" height="3" fill="#ee1c25"/>
<rect x="231.8" y="213.6" width="3.3" height="2.4" fill="#f7b0b4"/>
<rect x="235.35" y="210.6" width="3.3" height="3" fill="#2ca02c"/>
<rect x="235.35" y="213.6" width="3.3" height="2.4" fill="#b6e6a6"/>
<rect x="238.9" y="210.6" width="3.3" height="3" fill="#1f78c1"/>
<rect x="238.9" y="213.6" width="3.3" height="2.4" fill="#a9cdee"/>
<text x="243" y="212.9" class="rb">Diff</text>
<text x="243.6" y="215.6" class="rk">All</text>
<rect x="39.4" y="219.3" width="1.6" height="32.2" fill="#f9c4c4"/>
<rect x="37.5" y="218.1" width="2.0" height="33.4" fill="#ee1c25"/>
<rect x="43.19" y="219.5" width="1.6" height="32" fill="#f9c4c4"/>
<rect x="41.29" y="218.3" width="2.0" height="33.2" fill="#ee1c25"/>
<rect x="46.98" y="221.7" width="1.6" height="29.8" fill="#f9c4c4"/>
<rect x="45.08" y="220.5" width="2.0" height="31" fill="#ee1c25"/>
<rect x="50.77" y="223.3" width="1.6" height="28.2" fill="#f9c4c4"/>
<rect x="48.87" y="222.1" width="2.0" height="29.4" fill="#ee1c25"/>
<rect x="54.56" y="226.8" width="1.6" height="24.7" fill="#f9c4c4"/>
<rect x="52.66" y="225.6" width="2.0" height="25.9" fill="#ee1c25"/>
<rect x="58.35" y="227.1" width="1.6" height="24.4" fill="#f9c4c4"/>
<rect x="56.45" y="225.9" width="2.0" height="25.6" fill="#ee1c25"/>
<rect x="62.14" y="228.2" width="1.6" height="23.3" fill="#f9c4c4"/>
<rect x="60.24" y="227" width="2.0" height="24.5" fill="#ee1c25"/>
<rect x="65.93" y="232.4" width="1.6" height="19.1" fill="#f9c4c4"/>
<rect x="64.03" y="231.2" width="2.0" height="20.3" fill="#ee1c25"/>
<rect x="69.72" y="233.4" width="1.6" height="18.1" fill="#f9c4c4"/>
<rect x="67.82" y="232.2" width="2.0" height="19.3" fill="#ee1c25"/>
<rect x="73.51" y="236.2" width="1.6" height="15.3" fill="#f9c4c4"/>
<rect x="71.61" y="235" width="2.0" height="16.5" fill="#ee1c25"/>
<rect x="77.3" y="236" width="1.6" height="15.5" fill="#f9c4c4"/>
<rect x="75.4" y="234.8" width="2.0" height="16.7" fill="#ee1c25"/>
<rect x="81.09" y="236.2" width="1.6" height="15.3" fill="#f9c4c4"/>
<rect x="79.19" y="235" width="2.0" height="16.5" fill="#ee1c25"/>
<rect x="84.88" y="239.1" width="1.6" height="12.4" fill="#f9c4c4"/>
<rect x="82.98" y="237.9" width="2.0" height="13.6" fill="#ee1c25"/>
<rect x="88.67" y="241.8" width="1.6" height="9.7" fill="#f9c4c4"/>
<rect x="86.77" y="240.6" width="2.0" height="10.9" fill="#ee1c25"/>
<rect x="92.46" y="247.1" width="1.6" height="4.4" fill="#f9c4c4"/>
<rect x="90.56" y="245.9" width="2.0" height="5.6" fill="#ee1c25"/>
<rect x="96.25" y="245.8" width="1.6" height="5.7" fill="#f9c4c4"/>
<rect x="94.35" y="244.6" width="2.0" height="6.9" fill="#ee1c25"/>
<rect x="100.04" y="251.2" width="1.6" height="0.3" fill="#f9c4c4"/>
<rect x="98.14" y="251" width="2.0" height="0.5" fill="#ee1c25"/>
<line x1="38.5" y1="251.5" x2="38.5" y2="252.5" class="tm"/>
<line x1="42.29" y1="251.5" x2="42.29" y2="252.5" class="tm"/>
<line x1="46.08" y1="251.5" x2="46.08" y2="252.5" class="tm"/>
<line x1="49.87" y1="251.5" x2="49.87" y2="252.5" class="tm"/>
<line x1="53.66" y1="251.5" x2="53.66" y2="252.5" class="tm"/>
<line x1="57.45" y1="251.5" x2="57.45" y2="252.5" class="tm"/>
<line x1="61.24" y1="251.5" x2="61.24" y2="252.5" class="tm"/>
<line x1="65.03" y1="251.5" x2="65.03" y2="252.5" class="tm"/>
<line x1="68.82" y1="251.5" x2="68.82" y2="252.5" class="tm"/>
<line x1="72.61" y1="251.5" x2="72.61" y2="252.5" class="tm"/>
<line x1="76.4" y1="251.5" x2="76.4" y2="252.5" class="tm"/>
<line x1="80.19" y1="251.5" x2="80.19" y2="252.5" class="tm"/>
<line x1="83.98" y1="251.5" x2="83.98" y2="252.5" class="tm"/>
<line x1="87.77" y1="251.5" x2="87.77" y2="252.5" class="tm"/>
<line x1="91.56" y1="251.5" x2="91.56" y2="252.5" class="tm"/>
<line x1="95.35" y1="251.5" x2="95.35" y2="252.5" class="tm"/>
<line x1="99.14" y1="251.5" x2="99.14" y2="252.5" class="tm"/>
<line x1="102.93" y1="251.5" x2="102.93" y2="252.5" class="tm"/>
<line x1="106.72" y1="251.5" x2="106.72" y2="252.5" class="tm"/>
<line x1="110.51" y1="251.5" x2="110.51" y2="252.5" class="tm"/>
<line x1="114.3" y1="251.5" x2="114.3" y2="252.5" class="tm"/>
<line x1="29.66" y1="283.5" x2="14" y2="340.88" class="br"/>
<line x1="14" y1="378.1" x2="80.4" y2="378.1" class="hl"/>
<text x="25.4" y="381.6" class="ct">biological process</text>
<rect x="118.8" y="218.9" width="1.6" height="32.6" fill="#cdeebc"/>
<rect x="116.9" y="217.7" width="2.0" height="33.8" fill="#2ca02c"/>
<rect x="122.57" y="218.9" width="1.6" height="32.6" fill="#cdeebc"/>
<rect x="120.67" y="217.7" width="2.0" height="33.8" fill="#2ca02c"/>
<rect x="126.34" y="220.7" width="1.6" height="30.8" fill="#cdeebc"/>
<rect x="124.44" y="219.5" width="2.0" height="32" fill="#2ca02c"/>
<rect x="130.11" y="221.5" width="1.6" height="30" fill="#cdeebc"/>
<rect x="128.21" y="220.3" width="2.0" height="31.2" fill="#2ca02c"/>
<rect x="133.88" y="222.6" width="1.6" height="28.9" fill="#cdeebc"/>
<rect x="131.98" y="221.4" width="2.0" height="30.1" fill="#2ca02c"/>
<rect x="137.65" y="226.2" width="1.6" height="25.3" fill="#cdeebc"/>
<rect x="135.75" y="225" width="2.0" height="26.5" fill="#2ca02c"/>
<rect x="141.42" y="226.9" width="1.6" height="24.6" fill="#cdeebc"/>
<rect x="139.52" y="225.7" width="2.0" height="25.8" fill="#2ca02c"/>
<rect x="145.19" y="236.3" width="1.6" height="15.2" fill="#cdeebc"/>
<rect x="143.29" y="235.1" width="2.0" height="16.4" fill="#2ca02c"/>
<rect x="148.96" y="235.2" width="1.6" height="16.3" fill="#cdeebc"/>
<rect x="147.06" y="234" width="2.0" height="17.5" fill="#2ca02c"/>
<rect x="152.73" y="241.1" width="1.6" height="10.4" fill="#cdeebc"/>
<rect x="150.83" y="239.9" width="2.0" height="11.6" fill="#2ca02c"/>
<rect x="156.5" y="241.1" width="1.6" height="10.4" fill="#cdeebc"/>
<rect x="154.6" y="239.9" width="2.0" height="11.6" fill="#2ca02c"/>
<rect x="160.27" y="241.1" width="1.6" height="10.4" fill="#cdeebc"/>
<rect x="158.37" y="239.9" width="2.0" height="11.6" fill="#2ca02c"/>
<rect x="164.04" y="241.4" width="1.6" height="10.1" fill="#cdeebc"/>
<rect x="162.14" y="240.2" width="2.0" height="11.3" fill="#2ca02c"/>
<rect x="167.81" y="247.1" width="1.6" height="4.4" fill="#cdeebc"/>
<rect x="165.91" y="245.9" width="2.0" height="5.6" fill="#2ca02c"/>
<rect x="171.58" y="248.8" width="1.6" height="2.7" fill="#cdeebc"/>
<rect x="169.68" y="247.6" width="2.0" height="3.9" fill="#2ca02c"/>
<line x1="117.9" y1="251.5" x2="117.9" y2="252.5" class="tm"/>
<line x1="121.67" y1="251.5" x2="121.67" y2="252.5" class="tm"/>
<line x1="125.44" y1="251.5" x2="125.44" y2="252.5" class="tm"/>
<line x1="129.21" y1="251.5" x2="129.21" y2="252.5" class="tm"/>
<line x1="132.98" y1="251.5" x2="132.98" y2="252.5" class="tm"/>
<line x1="136.75" y1="251.5" x2="136.75" y2="252.5" class="tm"/>
<line x1="140.52" y1="251.5" x2="140.52" y2="252.5" class="tm"/>
<line x1="144.29" y1="251.5" x2="144.29" y2="252.5" class="tm"/>
<line x1="148.06" y1="251.5" x2="148.06" y2="252.5" class="tm"/>
<line x1="151.83" y1="251.5" x2="151.83" y2="252.5" class="tm"/>
<line x1="155.6" y1="251.5" x2="155.6" y2="252.5" class="tm"/>
<line x1="159.37" y1="251.5" x2="159.37" y2="252.5" class="tm"/>
<line x1="163.14" y1="251.5" x2="163.14" y2="252.5" class="tm"/>
<line x1="166.91" y1="251.5" x2="166.91" y2="252.5" class="tm"/>
<line x1="170.68" y1="251.5" x2="170.68" y2="252.5" class="tm"/>
<line x1="174.45" y1="251.5" x2="174.45" y2="252.5" class="tm"/>
<line x1="178.22" y1="251.5" x2="178.22" y2="252.5" class="tm"/>
<line x1="181.99" y1="251.5" x2="181.99" y2="252.5" class="tm"/>
<line x1="117.89" y1="251.9" x2="83.41" y2="378.2" class="br"/>
<line x1="182.2" y1="251.9" x2="147.61" y2="378.2" class="br"/>
<line x1="83.9" y1="378.1" x2="147.6" y2="378.1" class="hl"/>
<text x="98.2" y="381.6" class="ct">cellular component</text>
<rect x="186.9" y="218.5" width="1.6" height="33" fill="#bfdaf0"/>
<rect x="185" y="217.3" width="2.0" height="34.2" fill="#1f78c1"/>
<rect x="190.68" y="219.5" width="1.6" height="32" fill="#bfdaf0"/>
<rect x="188.78" y="218.3" width="2.0" height="33.2" fill="#1f78c1"/>
<rect x="194.46" y="230.4" width="1.6" height="21.1" fill="#bfdaf0"/>
<rect x="192.56" y="229.2" width="2.0" height="22.3" fill="#1f78c1"/>
<rect x="198.24" y="232.3" width="1.6" height="19.2" fill="#bfdaf0"/>
<rect x="196.34" y="231.1" width="2.0" height="20.4" fill="#1f78c1"/>
<rect x="202.02" y="236.6" width="1.6" height="14.9" fill="#bfdaf0"/>
<rect x="200.12" y="235.4" width="2.0" height="16.1" fill="#1f78c1"/>
<rect x="205.8" y="236.8" width="1.6" height="14.7" fill="#bfdaf0"/>
<rect x="203.9" y="235.6" width="2.0" height="15.9" fill="#1f78c1"/>
<rect x="209.58" y="238.7" width="1.6" height="12.8" fill="#bfdaf0"/>
<rect x="207.68" y="237.5" width="2.0" height="14" fill="#1f78c1"/>
<rect x="213.36" y="239.6" width="1.6" height="11.9" fill="#bfdaf0"/>
<rect x="211.46" y="238.4" width="2.0" height="13.1" fill="#1f78c1"/>
<rect x="217.14" y="242.5" width="1.6" height="9" fill="#bfdaf0"/>
<rect x="215.24" y="241.3" width="2.0" height="10.2" fill="#1f78c1"/>
<rect x="220.92" y="242.5" width="1.6" height="9" fill="#bfdaf0"/>
<rect x="219.02" y="241.3" width="2.0" height="10.2" fill="#1f78c1"/>
<rect x="224.7" y="242.2" width="1.6" height="9.3" fill="#bfdaf0"/>
<rect x="222.8" y="241" width="2.0" height="10.5" fill="#1f78c1"/>
<rect x="228.48" y="247.5" width="1.6" height="4" fill="#bfdaf0"/>
<rect x="226.58" y="246.3" width="2.0" height="5.2" fill="#1f78c1"/>
<line x1="186" y1="251.5" x2="186" y2="252.5" class="tm"/>
<line x1="189.78" y1="251.5" x2="189.78" y2="252.5" class="tm"/>
<line x1="193.56" y1="251.5" x2="193.56" y2="252.5" class="tm"/>
<line x1="197.34" y1="251.5" x2="197.34" y2="252.5" class="tm"/>
<line x1="201.12" y1="251.5" x2="201.12" y2="252.5" class="tm"/>
<line x1="204.9" y1="251.5" x2="204.9" y2="252.5" class="tm"/>
<line x1="208.68" y1="251.5" x2="208.68" y2="252.5" class="tm"/>
<line x1="212.46" y1="251.5" x2="212.46" y2="252.5" class="tm"/>
<line x1="216.24" y1="251.5" x2="216.24" y2="252.5" class="tm"/>
<line x1="220.02" y1="251.5" x2="220.02" y2="252.5" class="tm"/>
<line x1="223.8" y1="251.5" x2="223.8" y2="252.5" class="tm"/>
<line x1="227.58" y1="251.5" x2="227.58" y2="252.5" class="tm"/>
<line x1="231.36" y1="251.5" x2="231.36" y2="252.5" class="tm"/>
<line x1="235.14" y1="251.5" x2="235.14" y2="252.5" class="tm"/>
<line x1="238.92" y1="251.5" x2="238.92" y2="252.5" class="tm"/>
<line x1="242.7" y1="251.5" x2="242.7" y2="252.5" class="tm"/>
<line x1="185.99" y1="251.9" x2="151.51" y2="378.2" class="br"/>
<line x1="243.3" y1="251.9" x2="208.71" y2="378.2" class="br"/>
<line x1="151.5" y1="378.1" x2="208.7" y2="378.1" class="hl"/>
<text x="163" y="381.6" class="ct">molecular function</text>
<g filter="url(#soft)">
<text transform="translate(37,257.1) rotate(-75.2) scale(1,0.72)" class="xl" text-anchor="end">cellular process</text>
<text transform="translate(40.79,257.1) rotate(-75.2) scale(1,0.72)" class="xl" text-anchor="end">metabolic process</text>
<text transform="translate(44.58,257.1) rotate(-75.2) scale(1,0.72)" class="xl" text-anchor="end">single-organism process</text>
<text transform="translate(48.37,257.1) rotate(-75.2) scale(1,0.72)" class="xl" text-anchor="end">biological regulation</text>
<text transform="translate(52.16,257.1) rotate(-75.2) scale(1,0.72)" class="xl" text-anchor="end">response to stimulus</text>
<text transform="translate(55.95,257.1) rotate(-75.2) scale(1,0.72)" class="xl" text-anchor="end">developmental process</text>
<text transform="translate(59.74,257.1) rotate(-75.2) scale(1,0.72)" class="xl" text-anchor="end">cellular component organization or biogenesis</text>
<text transform="translate(63.53,257.1) rotate(-75.2) scale(1,0.72)" class="xl" text-anchor="end">localization</text>
<text transform="translate(67.32,257.1) rotate(-75.2) scale(1,0.72)" class="xl" text-anchor="end">reproductive process</text>
<text transform="translate(71.11,257.1) rotate(-75.2) scale(1,0.72)" class="xl" text-anchor="end">signaling</text>
<text transform="translate(74.9,257.1) rotate(-75.2) scale(1,0.72)" class="xl" text-anchor="end">multicellular organismal process</text>
<text transform="translate(78.69,257.1) rotate(-75.2) scale(1,0.72)" class="xl" text-anchor="end">reproduction</text>
<text transform="translate(82.48,257.1) rotate(-75.2) scale(1,0.72)" class="xl" text-anchor="end">multi-organism process</text>
<text transform="translate(86.27,257.1) rotate(-75.2) scale(1,0.72)" class="xl" text-anchor="end">immune system process</text>
<text transform="translate(90.06,257.1) rotate(-75.2) scale(1,0.72)" class="xl" text-anchor="end">growth</text>
<text transform="translate(93.85,257.1) rotate(-75.2) scale(1,0.72)" class="xl" text-anchor="end">rhythmic process</text>
<text transform="translate(97.64,257.1) rotate(-75.2) scale(1,0.72)" class="xl" text-anchor="end">detoxification</text>
<text transform="translate(101.43,257.1) rotate(-75.2) scale(1,0.72)" class="xl" text-anchor="end">locomotion</text>
<text transform="translate(105.22,257.1) rotate(-75.2) scale(1,0.72)" class="xl" text-anchor="end">biological adhesion</text>
<text transform="translate(109.01,257.1) rotate(-75.2) scale(1,0.72)" class="xl" text-anchor="end">cell killing</text>
<text transform="translate(112.8,257.1) rotate(-75.2) scale(1,0.72)" class="xl" text-anchor="end">presynaptic process involved in chemical synaptic transmission</text>
<text transform="translate(116.4,257.1) rotate(-75.2) scale(1,0.72)" class="xl" text-anchor="end">cell</text>
<text transform="translate(120.17,257.1) rotate(-75.2) scale(1,0.72)" class="xl" text-anchor="end">cell part</text>
<text transform="translate(123.94,257.1) rotate(-75.2) scale(1,0.72)" class="xl" text-anchor="end">organelle</text>
<text transform="translate(127.71,257.1) rotate(-75.2) scale(1,0.72)" class="xl" text-anchor="end">membrane</text>
<text transform="translate(131.48,257.1) rotate(-75.2) scale(1,0.72)" class="xl" text-anchor="end">organelle part</text>
<text transform="translate(135.25,257.1) rotate(-75.2) scale(1,0.72)" class="xl" text-anchor="end">membrane part</text>
<text transform="translate(139.02,257.1) rotate(-75.2) scale(1,0.72)" class="xl" text-anchor="end">macromolecular complex</text>
<text transform="translate(142.79,257.1) rotate(-75.2) scale(1,0.72)" class="xl" text-anchor="end">extracellular region</text>
<text transform="translate(146.56,257.1) rotate(-75.2) scale(1,0.72)" class="xl" text-anchor="end">membrane-enclosed lumen</text>
<text transform="translate(150.33,257.1) rotate(-75.2) scale(1,0.72)" class="xl" text-anchor="end">cell junction</text>
<text transform="translate(154.1,257.1) rotate(-75.2) scale(1,0.72)" class="xl" text-anchor="end">symplast</text>
<text transform="translate(157.87,257.1) rotate(-75.2) scale(1,0.72)" class="xl" text-anchor="end">synapse</text>
<text transform="translate(161.64,257.1) rotate(-75.2) scale(1,0.72)" class="xl" text-anchor="end">supramolecular fiber</text>
<text transform="translate(165.41,257.1) rotate(-75.2) scale(1,0.72)" class="xl" text-anchor="end">extracellular matrix</text>
<text transform="translate(169.18,257.1) rotate(-75.2) scale(1,0.72)" class="xl" text-anchor="end">synapse part</text>
<text transform="translate(172.95,257.1) rotate(-75.2) scale(1,0.72)" class="xl" text-anchor="end">nucleoid</text>
<text transform="translate(176.72,257.1) rotate(-75.2) scale(1,0.72)" class="xl" text-anchor="end">virion</text>
<text transform="translate(180.49,257.1) rotate(-75.2) scale(1,0.72)" class="xl" text-anchor="end">virion part</text>
<text transform="translate(184.5,257.1) rotate(-75.2) scale(1,0.72)" class="xl" text-anchor="end">binding</text>
<text transform="translate(188.28,257.1) rotate(-75.2) scale(1,0.72)" class="xl" text-anchor="end">catalytic activity</text>
<text transform="translate(192.06,257.1) rotate(-75.2) scale(1,0.72)" class="xl" text-anchor="end">transporter activity</text>
<text transform="translate(195.84,257.1) rotate(-75.2) scale(1,0.72)" class="xl" text-anchor="end">nucleic acid binding transcription factor activity</text>
<text transform="translate(199.62,257.1) rotate(-75.2) scale(1,0.72)" class="xl" text-anchor="end">structural molecule activity</text>
<text transform="translate(203.4,257.1) rotate(-75.2) scale(1,0.72)" class="xl" text-anchor="end">molecular function regulator</text>
<text transform="translate(207.18,257.1) rotate(-75.2) scale(1,0.72)" class="xl" text-anchor="end">electron carrier activity</text>
<text transform="translate(210.96,257.1) rotate(-75.2) scale(1,0.72)" class="xl" text-anchor="end">molecular transducer activity</text>
<text transform="translate(214.74,257.1) rotate(-75.2) scale(1,0.72)" class="xl" text-anchor="end">signal transducer activity</text>
<text transform="translate(218.52,257.1) rotate(-75.2) scale(1,0.72)" class="xl" text-anchor="end">antioxidant activity</text>
<text transform="translate(222.3,257.1) rotate(-75.2) scale(1,0.72)" class="xl" text-anchor="end">transcription factor activity, protein binding</text>
<text transform="translate(226.08,257.1) rotate(-75.2) scale(1,0.72)" class="xl" text-anchor="end">nutrient reservoir activity</text>
<text transform="translate(229.86,257.1) rotate(-75.2) scale(1,0.72)" class="xl" text-anchor="end">translation regulator activity</text>
<text transform="translate(233.64,257.1) rotate(-75.2) scale(1,0.72)" class="xl" text-anchor="end">metallochaperone activity</text>
<text transform="translate(237.42,257.1) rotate(-75.2) scale(1,0.72)" class="xl" text-anchor="end">toxin activity</text>
<text transform="translate(241.2,257.1) rotate(-75.2) scale(1,0.72)" class="xl" text-anchor="end">protein tag</text>
</g>
</g>
<g>
<text x="310.9" y="212.2" font-size="15.5" font-weight="normal" class="lt">d</text>
<line x1="303.3" y1="213.2" x2="303.3" y2="251.5" class="ax"/>
<line x1="303.3" y1="251.5" x2="527" y2="251.5" class="ax"/>
<line x1="527" y1="212.4" x2="527" y2="251.5" class="axr"/>
<text x="300.8" y="214.5" class="tk" text-anchor="end">100</text>
<line x1="302.3" y1="213.2" x2="303.3" y2="213.2" class="ax"/>
<text x="300.8" y="227.27" class="tk" text-anchor="end">10</text>
<line x1="302.3" y1="225.97" x2="303.3" y2="225.97" class="ax"/>
<text x="300.8" y="240.03" class="tk" text-anchor="end">1</text>
<line x1="302.3" y1="238.73" x2="303.3" y2="238.73" class="ax"/>
<text x="300.8" y="252.8" class="tk" text-anchor="end">0.1</text>
<line x1="302.3" y1="251.5" x2="303.3" y2="251.5" class="ax"/>
<text transform="translate(294.9,236) rotate(-90)" class="yt" text-anchor="middle">Percentage of genes</text>
<text x="529.2" y="213.6" class="rb">14,670</text>
<text x="529.2" y="216.8" class="rk">24,865</text>
<text x="529.2" y="226.37" class="rb">1467</text>
<text x="529.2" y="229.57" class="rk">2486</text>
<text x="529.2" y="239.13" class="rb">146</text>
<text x="529.2" y="242.33" class="rk">248</text>
<text x="529.2" y="251.9" class="rb">14</text>
<text x="529.2" y="255.1" class="rk">24</text>
<text transform="translate(542.3,235) rotate(-90)" class="yt" text-anchor="middle">Number of genes</text>
<rect x="506.8" y="210.6" width="3.3" height="3" fill="#ee1c25"/>
<rect x="506.8" y="213.6" width="3.3" height="2.4" fill="#f7b0b4"/>
<rect x="510.35" y="210.6" width="3.3" height="3" fill="#2ca02c"/>
<rect x="510.35" y="213.6" width="3.3" height="2.4" fill="#b6e6a6"/>
<rect x="513.9" y="210.6" width="3.3" height="3" fill="#1f78c1"/>
<rect x="513.9" y="213.6" width="3.3" height="2.4" fill="#a9cdee"/>
<text x="518" y="212.9" class="rb">Diff</text>
<text x="518.6" y="215.6" class="rk">All</text>
<rect x="314.4" y="219.3" width="1.6" height="32.2" fill="#f9c4c4"/>
<rect x="312.5" y="218.1" width="2.0" height="33.4" fill="#ee1c25"/>
<rect x="318.19" y="219.5" width="1.6" height="32" fill="#f9c4c4"/>
<rect x="316.29" y="218.3" width="2.0" height="33.2" fill="#ee1c25"/>
<rect x="321.98" y="221.7" width="1.6" height="29.8" fill="#f9c4c4"/>
<rect x="320.08" y="220.5" width="2.0" height="31" fill="#ee1c25"/>
<rect x="325.77" y="223.3" width="1.6" height="28.2" fill="#f9c4c4"/>
<rect x="323.87" y="222.1" width="2.0" height="29.4" fill="#ee1c25"/>
<rect x="329.56" y="226.8" width="1.6" height="24.7" fill="#f9c4c4"/>
<rect x="327.66" y="225.6" width="2.0" height="25.9" fill="#ee1c25"/>
<rect x="333.35" y="227.1" width="1.6" height="24.4" fill="#f9c4c4"/>
<rect x="331.45" y="225.9" width="2.0" height="25.6" fill="#ee1c25"/>
<rect x="337.14" y="228.2" width="1.6" height="23.3" fill="#f9c4c4"/>
<rect x="335.24" y="227" width="2.0" height="24.5" fill="#ee1c25"/>
<rect x="340.93" y="232.4" width="1.6" height="19.1" fill="#f9c4c4"/>
<rect x="339.03" y="231.2" width="2.0" height="20.3" fill="#ee1c25"/>
<rect x="344.72" y="233.4" width="1.6" height="18.1" fill="#f9c4c4"/>
<rect x="342.82" y="232.2" width="2.0" height="19.3" fill="#ee1c25"/>
<rect x="348.51" y="236.2" width="1.6" height="15.3" fill="#f9c4c4"/>
<rect x="346.61" y="235" width="2.0" height="16.5" fill="#ee1c25"/>
<rect x="352.3" y="236" width="1.6" height="15.5" fill="#f9c4c4"/>
<rect x="350.4" y="234.8" width="2.0" height="16.7" fill="#ee1c25"/>
<rect x="356.09" y="236.2" width="1.6" height="15.3" fill="#f9c4c4"/>
<rect x="354.19" y="235" width="2.0" height="16.5" fill="#ee1c25"/>
<rect x="359.88" y="239.1" width="1.6" height="12.4" fill="#f9c4c4"/>
<rect x="357.98" y="237.9" width="2.0" height="13.6" fill="#ee1c25"/>
<rect x="363.67" y="241.8" width="1.6" height="9.7" fill="#f9c4c4"/>
<rect x="361.77" y="240.6" width="2.0" height="10.9" fill="#ee1c25"/>
<rect x="367.46" y="246.2" width="1.6" height="5.3" fill="#f9c4c4"/>
<rect x="365.56" y="245" width="2.0" height="6.5" fill="#ee1c25"/>
<rect x="371.25" y="246.2" width="1.6" height="5.3" fill="#f9c4c4"/>
<rect x="369.35" y="245" width="2.0" height="6.5" fill="#ee1c25"/>
<rect x="375.04" y="251.2" width="1.6" height="0.3" fill="#f9c4c4"/>
<rect x="373.14" y="251" width="2.0" height="0.5" fill="#ee1c25"/>
<line x1="313.5" y1="251.5" x2="313.5" y2="252.5" class="tm"/>
<line x1="317.29" y1="251.5" x2="317.29" y2="252.5" class="tm"/>
<line x1="321.08" y1="251.5" x2="321.08" y2="252.5" class="tm"/>
<line x1="324.87" y1="251.5" x2="324.87" y2="252.5" class="tm"/>
<line x1="328.66" y1="251.5" x2="328.66" y2="252.5" class="tm"/>
<line x1="332.45" y1="251.5" x2="332.45" y2="252.5" class="tm"/>
<line x1="336.24" y1="251.5" x2="336.24" y2="252.5" class="tm"/>
<line x1="340.03" y1="251.5" x2="340.03" y2="252.5" class="tm"/>
<line x1="343.82" y1="251.5" x2="343.82" y2="252.5" class="tm"/>
<line x1="347.61" y1="251.5" x2="347.61" y2="252.5" class="tm"/>
<line x1="351.4" y1="251.5" x2="351.4" y2="252.5" class="tm"/>
<line x1="355.19" y1="251.5" x2="355.19" y2="252.5" class="tm"/>
<line x1="358.98" y1="251.5" x2="358.98" y2="252.5" class="tm"/>
<line x1="362.77" y1="251.5" x2="362.77" y2="252.5" class="tm"/>
<line x1="366.56" y1="251.5" x2="366.56" y2="252.5" class="tm"/>
<line x1="370.35" y1="251.5" x2="370.35" y2="252.5" class="tm"/>
<line x1="374.14" y1="251.5" x2="374.14" y2="252.5" class="tm"/>
<line x1="377.93" y1="251.5" x2="377.93" y2="252.5" class="tm"/>
<line x1="381.72" y1="251.5" x2="381.72" y2="252.5" class="tm"/>
<line x1="385.51" y1="251.5" x2="385.51" y2="252.5" class="tm"/>
<line x1="389.3" y1="251.5" x2="389.3" y2="252.5" class="tm"/>
<line x1="304.66" y1="283.5" x2="289" y2="340.88" class="br"/>
<line x1="289" y1="378.2" x2="355.4" y2="378.2" class="hl"/>
<text x="300.4" y="381.7" class="ct">biological process</text>
<rect x="393.8" y="218.9" width="1.6" height="32.6" fill="#cdeebc"/>
<rect x="391.9" y="217.7" width="2.0" height="33.8" fill="#2ca02c"/>
<rect x="397.57" y="218.9" width="1.6" height="32.6" fill="#cdeebc"/>
<rect x="395.67" y="217.7" width="2.0" height="33.8" fill="#2ca02c"/>
<rect x="401.34" y="220.7" width="1.6" height="30.8" fill="#cdeebc"/>
<rect x="399.44" y="219.5" width="2.0" height="32" fill="#2ca02c"/>
<rect x="405.11" y="221.5" width="1.6" height="30" fill="#cdeebc"/>
<rect x="403.21" y="220.3" width="2.0" height="31.2" fill="#2ca02c"/>
<rect x="408.88" y="222.6" width="1.6" height="28.9" fill="#cdeebc"/>
<rect x="406.98" y="221.4" width="2.0" height="30.1" fill="#2ca02c"/>
<rect x="412.65" y="226.2" width="1.6" height="25.3" fill="#cdeebc"/>
<rect x="410.75" y="225" width="2.0" height="26.5" fill="#2ca02c"/>
<rect x="416.42" y="226.9" width="1.6" height="24.6" fill="#cdeebc"/>
<rect x="414.52" y="225.7" width="2.0" height="25.8" fill="#2ca02c"/>
<rect x="420.19" y="236.3" width="1.6" height="15.2" fill="#cdeebc"/>
<rect x="418.29" y="235.1" width="2.0" height="16.4" fill="#2ca02c"/>
<rect x="423.96" y="235.2" width="1.6" height="16.3" fill="#cdeebc"/>
<rect x="422.06" y="234" width="2.0" height="17.5" fill="#2ca02c"/>
<rect x="427.73" y="241.1" width="1.6" height="10.4" fill="#cdeebc"/>
<rect x="425.83" y="239.9" width="2.0" height="11.6" fill="#2ca02c"/>
<rect x="431.5" y="241.1" width="1.6" height="10.4" fill="#cdeebc"/>
<rect x="429.6" y="239.9" width="2.0" height="11.6" fill="#2ca02c"/>
<rect x="435.27" y="241.1" width="1.6" height="10.4" fill="#cdeebc"/>
<rect x="433.37" y="239.9" width="2.0" height="11.6" fill="#2ca02c"/>
<rect x="439.04" y="241.4" width="1.6" height="10.1" fill="#cdeebc"/>
<rect x="437.14" y="240.2" width="2.0" height="11.3" fill="#2ca02c"/>
<rect x="442.81" y="247.5" width="1.6" height="4" fill="#cdeebc"/>
<rect x="440.91" y="246.3" width="2.0" height="5.2" fill="#2ca02c"/>
<rect x="446.58" y="248.3" width="1.6" height="3.2" fill="#cdeebc"/>
<rect x="444.68" y="247.1" width="2.0" height="4.4" fill="#2ca02c"/>
<line x1="392.9" y1="251.5" x2="392.9" y2="252.5" class="tm"/>
<line x1="396.67" y1="251.5" x2="396.67" y2="252.5" class="tm"/>
<line x1="400.44" y1="251.5" x2="400.44" y2="252.5" class="tm"/>
<line x1="404.21" y1="251.5" x2="404.21" y2="252.5" class="tm"/>
<line x1="407.98" y1="251.5" x2="407.98" y2="252.5" class="tm"/>
<line x1="411.75" y1="251.5" x2="411.75" y2="252.5" class="tm"/>
<line x1="415.52" y1="251.5" x2="415.52" y2="252.5" class="tm"/>
<line x1="419.29" y1="251.5" x2="419.29" y2="252.5" class="tm"/>
<line x1="423.06" y1="251.5" x2="423.06" y2="252.5" class="tm"/>
<line x1="426.83" y1="251.5" x2="426.83" y2="252.5" class="tm"/>
<line x1="430.6" y1="251.5" x2="430.6" y2="252.5" class="tm"/>
<line x1="434.37" y1="251.5" x2="434.37" y2="252.5" class="tm"/>
<line x1="438.14" y1="251.5" x2="438.14" y2="252.5" class="tm"/>
<line x1="441.91" y1="251.5" x2="441.91" y2="252.5" class="tm"/>
<line x1="445.68" y1="251.5" x2="445.68" y2="252.5" class="tm"/>
<line x1="449.45" y1="251.5" x2="449.45" y2="252.5" class="tm"/>
<line x1="453.22" y1="251.5" x2="453.22" y2="252.5" class="tm"/>
<line x1="456.99" y1="251.5" x2="456.99" y2="252.5" class="tm"/>
<line x1="392.89" y1="251.9" x2="358.41" y2="378.2" class="br"/>
<line x1="457.2" y1="251.9" x2="422.61" y2="378.2" class="br"/>
<line x1="358.9" y1="378.2" x2="422.6" y2="378.2" class="hl"/>
<text x="373.2" y="381.7" class="ct">cellular component</text>
<rect x="461.9" y="218.5" width="1.6" height="33" fill="#bfdaf0"/>
<rect x="460" y="217.3" width="2.0" height="34.2" fill="#1f78c1"/>
<rect x="465.68" y="219.5" width="1.6" height="32" fill="#bfdaf0"/>
<rect x="463.78" y="218.3" width="2.0" height="33.2" fill="#1f78c1"/>
<rect x="469.46" y="230.4" width="1.6" height="21.1" fill="#bfdaf0"/>
<rect x="467.56" y="229.2" width="2.0" height="22.3" fill="#1f78c1"/>
<rect x="473.24" y="232.3" width="1.6" height="19.2" fill="#bfdaf0"/>
<rect x="471.34" y="231.1" width="2.0" height="20.4" fill="#1f78c1"/>
<rect x="477.02" y="236.6" width="1.6" height="14.9" fill="#bfdaf0"/>
<rect x="475.12" y="235.4" width="2.0" height="16.1" fill="#1f78c1"/>
<rect x="480.8" y="236.8" width="1.6" height="14.7" fill="#bfdaf0"/>
<rect x="478.9" y="235.6" width="2.0" height="15.9" fill="#1f78c1"/>
<rect x="484.58" y="238.7" width="1.6" height="12.8" fill="#bfdaf0"/>
<rect x="482.68" y="237.5" width="2.0" height="14" fill="#1f78c1"/>
<rect x="488.36" y="239.6" width="1.6" height="11.9" fill="#bfdaf0"/>
<rect x="486.46" y="238.4" width="2.0" height="13.1" fill="#1f78c1"/>
<rect x="492.14" y="242.5" width="1.6" height="9" fill="#bfdaf0"/>
<rect x="490.24" y="241.3" width="2.0" height="10.2" fill="#1f78c1"/>
<rect x="495.92" y="242.5" width="1.6" height="9" fill="#bfdaf0"/>
<rect x="494.02" y="241.3" width="2.0" height="10.2" fill="#1f78c1"/>
<rect x="499.7" y="242.2" width="1.6" height="9.3" fill="#bfdaf0"/>
<rect x="497.8" y="241" width="2.0" height="10.5" fill="#1f78c1"/>
<rect x="503.48" y="247.6" width="1.6" height="3.9" fill="#bfdaf0"/>
<rect x="501.58" y="246.4" width="2.0" height="5.1" fill="#1f78c1"/>
<line x1="461" y1="251.5" x2="461" y2="252.5" class="tm"/>
<line x1="464.78" y1="251.5" x2="464.78" y2="252.5" class="tm"/>
<line x1="468.56" y1="251.5" x2="468.56" y2="252.5" class="tm"/>
<line x1="472.34" y1="251.5" x2="472.34" y2="252.5" class="tm"/>
<line x1="476.12" y1="251.5" x2="476.12" y2="252.5" class="tm"/>
<line x1="479.9" y1="251.5" x2="479.9" y2="252.5" class="tm"/>
<line x1="483.68" y1="251.5" x2="483.68" y2="252.5" class="tm"/>
<line x1="487.46" y1="251.5" x2="487.46" y2="252.5" class="tm"/>
<line x1="491.24" y1="251.5" x2="491.24" y2="252.5" class="tm"/>
<line x1="495.02" y1="251.5" x2="495.02" y2="252.5" class="tm"/>
<line x1="498.8" y1="251.5" x2="498.8" y2="252.5" class="tm"/>
<line x1="502.58" y1="251.5" x2="502.58" y2="252.5" class="tm"/>
<line x1="506.36" y1="251.5" x2="506.36" y2="252.5" class="tm"/>
<line x1="510.14" y1="251.5" x2="510.14" y2="252.5" class="tm"/>
<line x1="513.92" y1="251.5" x2="513.92" y2="252.5" class="tm"/>
<line x1="517.7" y1="251.5" x2="517.7" y2="252.5" class="tm"/>
<line x1="460.99" y1="251.9" x2="426.51" y2="378.2" class="br"/>
<line x1="518.3" y1="251.9" x2="483.71" y2="378.2" class="br"/>
<line x1="426.5" y1="378.2" x2="483.7" y2="378.2" class="hl"/>
<text x="438" y="381.7" class="ct">molecular function</text>
<g filter="url(#soft)">
<text transform="translate(312,257.1) rotate(-75.2) scale(1,0.72)" class="xl" text-anchor="end">cellular process</text>
<text transform="translate(315.79,257.1) rotate(-75.2) scale(1,0.72)" class="xl" text-anchor="end">metabolic process</text>
<text transform="translate(319.58,257.1) rotate(-75.2) scale(1,0.72)" class="xl" text-anchor="end">single-organism process</text>
<text transform="translate(323.37,257.1) rotate(-75.2) scale(1,0.72)" class="xl" text-anchor="end">biological regulation</text>
<text transform="translate(327.16,257.1) rotate(-75.2) scale(1,0.72)" class="xl" text-anchor="end">response to stimulus</text>
<text transform="translate(330.95,257.1) rotate(-75.2) scale(1,0.72)" class="xl" text-anchor="end">developmental process</text>
<text transform="translate(334.74,257.1) rotate(-75.2) scale(1,0.72)" class="xl" text-anchor="end">cellular component organization or biogenesis</text>
<text transform="translate(338.53,257.1) rotate(-75.2) scale(1,0.72)" class="xl" text-anchor="end">localization</text>
<text transform="translate(342.32,257.1) rotate(-75.2) scale(1,0.72)" class="xl" text-anchor="end">reproductive process</text>
<text transform="translate(346.11,257.1) rotate(-75.2) scale(1,0.72)" class="xl" text-anchor="end">signaling</text>
<text transform="translate(349.9,257.1) rotate(-75.2) scale(1,0.72)" class="xl" text-anchor="end">multicellular organismal process</text>
<text transform="translate(353.69,257.1) rotate(-75.2) scale(1,0.72)" class="xl" text-anchor="end">reproduction</text>
<text transform="translate(357.48,257.1) rotate(-75.2) scale(1,0.72)" class="xl" text-anchor="end">multi-organism process</text>
<text transform="translate(361.27,257.1) rotate(-75.2) scale(1,0.72)" class="xl" text-anchor="end">immune system process</text>
<text transform="translate(365.06,257.1) rotate(-75.2) scale(1,0.72)" class="xl" text-anchor="end">growth</text>
<text transform="translate(368.85,257.1) rotate(-75.2) scale(1,0.72)" class="xl" text-anchor="end">rhythmic process</text>
<text transform="translate(372.64,257.1) rotate(-75.2) scale(1,0.72)" class="xl" text-anchor="end">detoxification</text>
<text transform="translate(376.43,257.1) rotate(-75.2) scale(1,0.72)" class="xl" text-anchor="end">locomotion</text>
<text transform="translate(380.22,257.1) rotate(-75.2) scale(1,0.72)" class="xl" text-anchor="end">biological adhesion</text>
<text transform="translate(384.01,257.1) rotate(-75.2) scale(1,0.72)" class="xl" text-anchor="end">cell killing</text>
<text transform="translate(387.8,257.1) rotate(-75.2) scale(1,0.72)" class="xl" text-anchor="end">presynaptic process involved in chemical synaptic transmission</text>
<text transform="translate(391.4,257.1) rotate(-75.2) scale(1,0.72)" class="xl" text-anchor="end">cell</text>
<text transform="translate(395.17,257.1) rotate(-75.2) scale(1,0.72)" class="xl" text-anchor="end">cell part</text>
<text transform="translate(398.94,257.1) rotate(-75.2) scale(1,0.72)" class="xl" text-anchor="end">organelle</text>
<text transform="translate(402.71,257.1) rotate(-75.2) scale(1,0.72)" class="xl" text-anchor="end">membrane</text>
<text transform="translate(406.48,257.1) rotate(-75.2) scale(1,0.72)" class="xl" text-anchor="end">organelle part</text>
<text transform="translate(410.25,257.1) rotate(-75.2) scale(1,0.72)" class="xl" text-anchor="end">membrane part</text>
<text transform="translate(414.02,257.1) rotate(-75.2) scale(1,0.72)" class="xl" text-anchor="end">macromolecular complex</text>
<text transform="translate(417.79,257.1) rotate(-75.2) scale(1,0.72)" class="xl" text-anchor="end">extracellular region</text>
<text transform="translate(421.56,257.1) rotate(-75.2) scale(1,0.72)" class="xl" text-anchor="end">membrane-enclosed lumen</text>
<text transform="translate(425.33,257.1) rotate(-75.2) scale(1,0.72)" class="xl" text-anchor="end">cell junction</text>
<text transform="translate(429.1,257.1) rotate(-75.2) scale(1,0.72)" class="xl" text-anchor="end">symplast</text>
<text transform="translate(432.87,257.1) rotate(-75.2) scale(1,0.72)" class="xl" text-anchor="end">synapse</text>
<text transform="translate(436.64,257.1) rotate(-75.2) scale(1,0.72)" class="xl" text-anchor="end">supramolecular fiber</text>
<text transform="translate(440.41,257.1) rotate(-75.2) scale(1,0.72)" class="xl" text-anchor="end">extracellular matrix</text>
<text transform="translate(444.18,257.1) rotate(-75.2) scale(1,0.72)" class="xl" text-anchor="end">synapse part</text>
<text transform="translate(447.95,257.1) rotate(-75.2) scale(1,0.72)" class="xl" text-anchor="end">nucleoid</text>
<text transform="translate(451.72,257.1) rotate(-75.2) scale(1,0.72)" class="xl" text-anchor="end">virion</text>
<text transform="translate(455.49,257.1) rotate(-75.2) scale(1,0.72)" class="xl" text-anchor="end">virion part</text>
<text transform="translate(459.5,257.1) rotate(-75.2) scale(1,0.72)" class="xl" text-anchor="end">binding</text>
<text transform="translate(463.28,257.1) rotate(-75.2) scale(1,0.72)" class="xl" text-anchor="end">catalytic activity</text>
<text transform="translate(467.06,257.1) rotate(-75.2) scale(1,0.72)" class="xl" text-anchor="end">transporter activity</text>
<text transform="translate(470.84,257.1) rotate(-75.2) scale(1,0.72)" class="xl" text-anchor="end">nucleic acid binding transcription factor activity</text>
<text transform="translate(474.62,257.1) rotate(-75.2) scale(1,0.72)" class="xl" text-anchor="end">structural molecule activity</text>
<text transform="translate(478.4,257.1) rotate(-75.2) scale(1,0.72)" class="xl" text-anchor="end">molecular function regulator</text>
<text transform="translate(482.18,257.1) rotate(-75.2) scale(1,0.72)" class="xl" text-anchor="end">electron carrier activity</text>
<text transform="translate(485.96,257.1) rotate(-75.2) scale(1,0.72)" class="xl" text-anchor="end">molecular transducer activity</text>
<text transform="translate(489.74,257.1) rotate(-75.2) scale(1,0.72)" class="xl" text-anchor="end">signal transducer activity</text>
<text transform="translate(493.52,257.1) rotate(-75.2) scale(1,0.72)" class="xl" text-anchor="end">antioxidant activity</text>
<text transform="translate(497.3,257.1) rotate(-75.2) scale(1,0.72)" class="xl" text-anchor="end">transcription factor activity, protein binding</text>
<text transform="translate(501.08,257.1) rotate(-75.2) scale(1,0.72)" class="xl" text-anchor="end">nutrient reservoir activity</text>
<text transform="translate(504.86,257.1) rotate(-75.2) scale(1,0.72)" class="xl" text-anchor="end">translation regulator activity</text>
<text transform="translate(508.64,257.1) rotate(-75.2) scale(1,0.72)" class="xl" text-anchor="end">metallochaperone activity</text>
<text transform="translate(512.42,257.1) rotate(-75.2) scale(1,0.72)" class="xl" text-anchor="end">toxin activity</text>
<text transform="translate(516.2,257.1) rotate(-75.2) scale(1,0.72)" class="xl" text-anchor="end">protein tag</text>
</g>
</g>
<g>
<text x="38.9" y="408.8" font-size="11" font-weight="bold" class="lt2">a</text>
<line x1="29.56" y1="407.1" x2="29.56" y2="445.4" class="ax"/>
<line x1="29.56" y1="445.4" x2="252.2" y2="445.4" class="ax"/>
<line x1="252.2" y1="406.3" x2="252.2" y2="445.4" class="axr"/>
<text x="27.07" y="408.4" class="tk" text-anchor="end">100</text>
<line x1="28.56" y1="407.1" x2="29.56" y2="407.1" class="ax"/>
<text x="27.07" y="421.17" class="tk" text-anchor="end">10</text>
<line x1="28.56" y1="419.87" x2="29.56" y2="419.87" class="ax"/>
<text x="27.07" y="433.93" class="tk" text-anchor="end">1</text>
<line x1="28.56" y1="432.63" x2="29.56" y2="432.63" class="ax"/>
<text x="27.07" y="446.7" class="tk" text-anchor="end">0.1</text>
<line x1="28.56" y1="445.4" x2="29.56" y2="445.4" class="ax"/>
<text transform="translate(21.2,429.9) rotate(-90)" class="yt" text-anchor="middle">Percentage of genes</text>
<text x="254.4" y="407.5" class="rb">14,320</text>
<text x="254.4" y="410.7" class="rk">24,865</text>
<text x="254.4" y="420.27" class="rb">1432</text>
<text x="254.4" y="423.47" class="rk">2486</text>
<text x="254.4" y="433.03" class="rb">143</text>
<text x="254.4" y="436.23" class="rk">248</text>
<text x="254.4" y="445.8" class="rb">14</text>
<text x="254.4" y="449" class="rk">24</text>
<text transform="translate(267.5,428.9) rotate(-90)" class="yt" text-anchor="middle">Number of genes</text>
<rect x="232" y="404.5" width="3.3" height="3" fill="#ee1c25"/>
<rect x="232" y="407.5" width="3.3" height="2.4" fill="#f7b0b4"/>
<rect x="235.55" y="404.5" width="3.3" height="3" fill="#2ca02c"/>
<rect x="235.55" y="407.5" width="3.3" height="2.4" fill="#b6e6a6"/>
<rect x="239.1" y="404.5" width="3.3" height="3" fill="#1f78c1"/>
<rect x="239.1" y="407.5" width="3.3" height="2.4" fill="#a9cdee"/>
<text x="243.2" y="406.8" class="rb">Diff</text>
<text x="243.8" y="409.5" class="rk">All</text>
<rect x="40.6" y="413.2" width="1.6" height="32.2" fill="#f9c4c4"/>
<rect x="38.7" y="412" width="2.0" height="33.4" fill="#ee1c25"/>
<rect x="44.37" y="413.4" width="1.6" height="32" fill="#f9c4c4"/>
<rect x="42.47" y="412.2" width="2.0" height="33.2" fill="#ee1c25"/>
<rect x="48.14" y="415.6" width="1.6" height="29.8" fill="#f9c4c4"/>
<rect x="46.24" y="414.4" width="2.0" height="31" fill="#ee1c25"/>
<rect x="51.91" y="417.2" width="1.6" height="28.2" fill="#f9c4c4"/>
<rect x="50.01" y="416" width="2.0" height="29.4" fill="#ee1c25"/>
<rect x="55.68" y="420.7" width="1.6" height="24.7" fill="#f9c4c4"/>
<rect x="53.78" y="419.5" width="2.0" height="25.9" fill="#ee1c25"/>
<rect x="59.45" y="421" width="1.6" height="24.4" fill="#f9c4c4"/>
<rect x="57.55" y="419.8" width="2.0" height="25.6" fill="#ee1c25"/>
<rect x="63.22" y="422.1" width="1.6" height="23.3" fill="#f9c4c4"/>
<rect x="61.32" y="420.9" width="2.0" height="24.5" fill="#ee1c25"/>
<rect x="66.99" y="426.3" width="1.6" height="19.1" fill="#f9c4c4"/>
<rect x="65.09" y="425.1" width="2.0" height="20.3" fill="#ee1c25"/>
<rect x="70.76" y="427.3" width="1.6" height="18.1" fill="#f9c4c4"/>
<rect x="68.86" y="426.1" width="2.0" height="19.3" fill="#ee1c25"/>
<rect x="74.53" y="430.1" width="1.6" height="15.3" fill="#f9c4c4"/>
<rect x="72.63" y="428.9" width="2.0" height="16.5" fill="#ee1c25"/>
<rect x="78.3" y="429.9" width="1.6" height="15.5" fill="#f9c4c4"/>
<rect x="76.4" y="428.7" width="2.0" height="16.7" fill="#ee1c25"/>
<rect x="82.07" y="430.1" width="1.6" height="15.3" fill="#f9c4c4"/>
<rect x="80.17" y="428.9" width="2.0" height="16.5" fill="#ee1c25"/>
<rect x="85.84" y="433" width="1.6" height="12.4" fill="#f9c4c4"/>
<rect x="83.94" y="431.8" width="2.0" height="13.6" fill="#ee1c25"/>
<rect x="89.61" y="435.7" width="1.6" height="9.7" fill="#f9c4c4"/>
<rect x="87.71" y="434.5" width="2.0" height="10.9" fill="#ee1c25"/>
<rect x="93.38" y="440.4" width="1.6" height="5" fill="#f9c4c4"/>
<rect x="91.48" y="439.2" width="2.0" height="6.2" fill="#ee1c25"/>
<rect x="97.15" y="440.4" width="1.6" height="5" fill="#f9c4c4"/>
<rect x="95.25" y="439.2" width="2.0" height="6.2" fill="#ee1c25"/>
<rect x="100.91" y="445.1" width="1.6" height="0.3" fill="#f9c4c4"/>
<rect x="99.01" y="444.9" width="2.0" height="0.5" fill="#ee1c25"/>
<line x1="39.7" y1="445.4" x2="39.7" y2="446.4" class="tm"/>
<line x1="43.47" y1="445.4" x2="43.47" y2="446.4" class="tm"/>
<line x1="47.24" y1="445.4" x2="47.24" y2="446.4" class="tm"/>
<line x1="51.01" y1="445.4" x2="51.01" y2="446.4" class="tm"/>
<line x1="54.78" y1="445.4" x2="54.78" y2="446.4" class="tm"/>
<line x1="58.55" y1="445.4" x2="58.55" y2="446.4" class="tm"/>
<line x1="62.32" y1="445.4" x2="62.32" y2="446.4" class="tm"/>
<line x1="66.09" y1="445.4" x2="66.09" y2="446.4" class="tm"/>
<line x1="69.86" y1="445.4" x2="69.86" y2="446.4" class="tm"/>
<line x1="73.63" y1="445.4" x2="73.63" y2="446.4" class="tm"/>
<line x1="77.4" y1="445.4" x2="77.4" y2="446.4" class="tm"/>
<line x1="81.17" y1="445.4" x2="81.17" y2="446.4" class="tm"/>
<line x1="84.94" y1="445.4" x2="84.94" y2="446.4" class="tm"/>
<line x1="88.71" y1="445.4" x2="88.71" y2="446.4" class="tm"/>
<line x1="92.48" y1="445.4" x2="92.48" y2="446.4" class="tm"/>
<line x1="96.25" y1="445.4" x2="96.25" y2="446.4" class="tm"/>
<line x1="100.01" y1="445.4" x2="100.01" y2="446.4" class="tm"/>
<line x1="103.78" y1="445.4" x2="103.78" y2="446.4" class="tm"/>
<line x1="107.55" y1="445.4" x2="107.55" y2="446.4" class="tm"/>
<line x1="111.32" y1="445.4" x2="111.32" y2="446.4" class="tm"/>
<line x1="115.09" y1="445.4" x2="115.09" y2="446.4" class="tm"/>
<line x1="30.87" y1="477.4" x2="15.41" y2="534.02" class="br"/>
<line x1="15.41" y1="571.3" x2="81.38" y2="571.3" class="hl"/>
<text x="26.67" y="574.8" class="ct">biological process</text>
<rect x="119.57" y="412.8" width="1.6" height="32.6" fill="#cdeebc"/>
<rect x="117.67" y="411.6" width="2.0" height="33.8" fill="#2ca02c"/>
<rect x="123.32" y="412.8" width="1.6" height="32.6" fill="#cdeebc"/>
<rect x="121.42" y="411.6" width="2.0" height="33.8" fill="#2ca02c"/>
<rect x="127.07" y="414.6" width="1.6" height="30.8" fill="#cdeebc"/>
<rect x="125.17" y="413.4" width="2.0" height="32" fill="#2ca02c"/>
<rect x="130.82" y="415.4" width="1.6" height="30" fill="#cdeebc"/>
<rect x="128.92" y="414.2" width="2.0" height="31.2" fill="#2ca02c"/>
<rect x="134.57" y="416.5" width="1.6" height="28.9" fill="#cdeebc"/>
<rect x="132.67" y="415.3" width="2.0" height="30.1" fill="#2ca02c"/>
<rect x="138.32" y="420.1" width="1.6" height="25.3" fill="#cdeebc"/>
<rect x="136.42" y="418.9" width="2.0" height="26.5" fill="#2ca02c"/>
<rect x="142.07" y="420.8" width="1.6" height="24.6" fill="#cdeebc"/>
<rect x="140.17" y="419.6" width="2.0" height="25.8" fill="#2ca02c"/>
<rect x="145.82" y="429.6" width="1.6" height="15.8" fill="#cdeebc"/>
<rect x="143.92" y="428.4" width="2.0" height="17" fill="#2ca02c"/>
<rect x="149.57" y="429.1" width="1.6" height="16.3" fill="#cdeebc"/>
<rect x="147.67" y="427.9" width="2.0" height="17.5" fill="#2ca02c"/>
<rect x="153.32" y="435" width="1.6" height="10.4" fill="#cdeebc"/>
<rect x="151.42" y="433.8" width="2.0" height="11.6" fill="#2ca02c"/>
<rect x="157.07" y="435" width="1.6" height="10.4" fill="#cdeebc"/>
<rect x="155.17" y="433.8" width="2.0" height="11.6" fill="#2ca02c"/>
<rect x="160.82" y="435" width="1.6" height="10.4" fill="#cdeebc"/>
<rect x="158.92" y="433.8" width="2.0" height="11.6" fill="#2ca02c"/>
<rect x="164.57" y="435.3" width="1.6" height="10.1" fill="#cdeebc"/>
<rect x="162.67" y="434.1" width="2.0" height="11.3" fill="#2ca02c"/>
<rect x="168.32" y="440.8" width="1.6" height="4.6" fill="#cdeebc"/>
<rect x="166.42" y="439.6" width="2.0" height="5.8" fill="#2ca02c"/>
<rect x="172.07" y="442.2" width="1.6" height="3.2" fill="#cdeebc"/>
<rect x="170.17" y="441" width="2.0" height="4.4" fill="#2ca02c"/>
<line x1="118.67" y1="445.4" x2="118.67" y2="446.4" class="tm"/>
<line x1="122.42" y1="445.4" x2="122.42" y2="446.4" class="tm"/>
<line x1="126.17" y1="445.4" x2="126.17" y2="446.4" class="tm"/>
<line x1="129.92" y1="445.4" x2="129.92" y2="446.4" class="tm"/>
<line x1="133.67" y1="445.4" x2="133.67" y2="446.4" class="tm"/>
<line x1="137.42" y1="445.4" x2="137.42" y2="446.4" class="tm"/>
<line x1="141.17" y1="445.4" x2="141.17" y2="446.4" class="tm"/>
<line x1="144.92" y1="445.4" x2="144.92" y2="446.4" class="tm"/>
<line x1="148.67" y1="445.4" x2="148.67" y2="446.4" class="tm"/>
<line x1="152.42" y1="445.4" x2="152.42" y2="446.4" class="tm"/>
<line x1="156.17" y1="445.4" x2="156.17" y2="446.4" class="tm"/>
<line x1="159.92" y1="445.4" x2="159.92" y2="446.4" class="tm"/>
<line x1="163.67" y1="445.4" x2="163.67" y2="446.4" class="tm"/>
<line x1="167.42" y1="445.4" x2="167.42" y2="446.4" class="tm"/>
<line x1="171.17" y1="445.4" x2="171.17" y2="446.4" class="tm"/>
<line x1="174.92" y1="445.4" x2="174.92" y2="446.4" class="tm"/>
<line x1="178.67" y1="445.4" x2="178.67" y2="446.4" class="tm"/>
<line x1="182.42" y1="445.4" x2="182.42" y2="446.4" class="tm"/>
<line x1="118.66" y1="445.8" x2="84.18" y2="572.1" class="br"/>
<line x1="182.63" y1="445.8" x2="148.04" y2="572.1" class="br"/>
<line x1="84.86" y1="571.3" x2="148.21" y2="571.3" class="hl"/>
<text x="99.08" y="574.8" class="ct">cellular component</text>
<rect x="187.31" y="412.2" width="1.6" height="33.2" fill="#bfdaf0"/>
<rect x="185.41" y="411" width="2.0" height="34.4" fill="#1f78c1"/>
<rect x="191.07" y="413.2" width="1.6" height="32.2" fill="#bfdaf0"/>
<rect x="189.17" y="412" width="2.0" height="33.4" fill="#1f78c1"/>
<rect x="194.82" y="424.4" width="1.6" height="21" fill="#bfdaf0"/>
<rect x="192.92" y="423.2" width="2.0" height="22.2" fill="#1f78c1"/>
<rect x="198.58" y="426.2" width="1.6" height="19.2" fill="#bfdaf0"/>
<rect x="196.68" y="425" width="2.0" height="20.4" fill="#1f78c1"/>
<rect x="202.34" y="430.2" width="1.6" height="15.2" fill="#bfdaf0"/>
<rect x="200.44" y="429" width="2.0" height="16.4" fill="#1f78c1"/>
<rect x="206.1" y="430.2" width="1.6" height="15.2" fill="#bfdaf0"/>
<rect x="204.2" y="429" width="2.0" height="16.4" fill="#1f78c1"/>
<rect x="209.86" y="433.2" width="1.6" height="12.2" fill="#bfdaf0"/>
<rect x="207.96" y="432" width="2.0" height="13.4" fill="#1f78c1"/>
<rect x="213.62" y="434" width="1.6" height="11.4" fill="#bfdaf0"/>
<rect x="211.72" y="432.8" width="2.0" height="12.6" fill="#1f78c1"/>
<rect x="217.38" y="436.2" width="1.6" height="9.2" fill="#bfdaf0"/>
<rect x="215.48" y="435" width="2.0" height="10.4" fill="#1f78c1"/>
<rect x="221.14" y="436.2" width="1.6" height="9.2" fill="#bfdaf0"/>
<rect x="219.24" y="435" width="2.0" height="10.4" fill="#1f78c1"/>
<rect x="224.9" y="436.2" width="1.6" height="9.2" fill="#bfdaf0"/>
<rect x="223" y="435" width="2.0" height="10.4" fill="#1f78c1"/>
<rect x="228.66" y="440.4" width="1.6" height="5" fill="#bfdaf0"/>
<rect x="226.76" y="439.2" width="2.0" height="6.2" fill="#1f78c1"/>
<line x1="186.41" y1="445.4" x2="186.41" y2="446.4" class="tm"/>
<line x1="190.17" y1="445.4" x2="190.17" y2="446.4" class="tm"/>
<line x1="193.92" y1="445.4" x2="193.92" y2="446.4" class="tm"/>
<line x1="197.68" y1="445.4" x2="197.68" y2="446.4" class="tm"/>
<line x1="201.44" y1="445.4" x2="201.44" y2="446.4" class="tm"/>
<line x1="205.2" y1="445.4" x2="205.2" y2="446.4" class="tm"/>
<line x1="208.96" y1="445.4" x2="208.96" y2="446.4" class="tm"/>
<line x1="212.72" y1="445.4" x2="212.72" y2="446.4" class="tm"/>
<line x1="216.48" y1="445.4" x2="216.48" y2="446.4" class="tm"/>
<line x1="220.24" y1="445.4" x2="220.24" y2="446.4" class="tm"/>
<line x1="224" y1="445.4" x2="224" y2="446.4" class="tm"/>
<line x1="227.76" y1="445.4" x2="227.76" y2="446.4" class="tm"/>
<line x1="231.52" y1="445.4" x2="231.52" y2="446.4" class="tm"/>
<line x1="235.28" y1="445.4" x2="235.28" y2="446.4" class="tm"/>
<line x1="239.04" y1="445.4" x2="239.04" y2="446.4" class="tm"/>
<line x1="242.8" y1="445.4" x2="242.8" y2="446.4" class="tm"/>
<line x1="186.4" y1="445.8" x2="151.92" y2="572.1" class="br"/>
<line x1="243.4" y1="445.8" x2="208.81" y2="572.1" class="br"/>
<line x1="152.09" y1="571.3" x2="208.98" y2="571.3" class="hl"/>
<text x="163.53" y="574.8" class="ct">molecular function</text>
<g filter="url(#soft)">
<text transform="translate(38.2,451) rotate(-75.2) scale(1,0.72)" class="xl" text-anchor="end">cellular process</text>
<text transform="translate(41.97,451) rotate(-75.2) scale(1,0.72)" class="xl" text-anchor="end">metabolic process</text>
<text transform="translate(45.74,451) rotate(-75.2) scale(1,0.72)" class="xl" text-anchor="end">single-organism process</text>
<text transform="translate(49.51,451) rotate(-75.2) scale(1,0.72)" class="xl" text-anchor="end">biological regulation</text>
<text transform="translate(53.28,451) rotate(-75.2) scale(1,0.72)" class="xl" text-anchor="end">response to stimulus</text>
<text transform="translate(57.05,451) rotate(-75.2) scale(1,0.72)" class="xl" text-anchor="end">developmental process</text>
<text transform="translate(60.82,451) rotate(-75.2) scale(1,0.72)" class="xl" text-anchor="end">cellular component organization or biogenesis</text>
<text transform="translate(64.59,451) rotate(-75.2) scale(1,0.72)" class="xl" text-anchor="end">localization</text>
<text transform="translate(68.36,451) rotate(-75.2) scale(1,0.72)" class="xl" text-anchor="end">reproductive process</text>
<text transform="translate(72.13,451) rotate(-75.2) scale(1,0.72)" class="xl" text-anchor="end">signaling</text>
<text transform="translate(75.9,451) rotate(-75.2) scale(1,0.72)" class="xl" text-anchor="end">multicellular organismal process</text>
<text transform="translate(79.67,451) rotate(-75.2) scale(1,0.72)" class="xl" text-anchor="end">reproduction</text>
<text transform="translate(83.44,451) rotate(-75.2) scale(1,0.72)" class="xl" text-anchor="end">multi-organism process</text>
<text transform="translate(87.21,451) rotate(-75.2) scale(1,0.72)" class="xl" text-anchor="end">immune system process</text>
<text transform="translate(90.98,451) rotate(-75.2) scale(1,0.72)" class="xl" text-anchor="end">growth</text>
<text transform="translate(94.75,451) rotate(-75.2) scale(1,0.72)" class="xl" text-anchor="end">rhythmic process</text>
<text transform="translate(98.51,451) rotate(-75.2) scale(1,0.72)" class="xl" text-anchor="end">detoxification</text>
<text transform="translate(102.28,451) rotate(-75.2) scale(1,0.72)" class="xl" text-anchor="end">locomotion</text>
<text transform="translate(106.05,451) rotate(-75.2) scale(1,0.72)" class="xl" text-anchor="end">biological adhesion</text>
<text transform="translate(109.82,451) rotate(-75.2) scale(1,0.72)" class="xl" text-anchor="end">cell killing</text>
<text transform="translate(113.59,451) rotate(-75.2) scale(1,0.72)" class="xl" text-anchor="end">presynaptic process involved in chemical synaptic transmission</text>
<text transform="translate(117.17,451) rotate(-75.2) scale(1,0.72)" class="xl" text-anchor="end">cell</text>
<text transform="translate(120.92,451) rotate(-75.2) scale(1,0.72)" class="xl" text-anchor="end">cell part</text>
<text transform="translate(124.67,451) rotate(-75.2) scale(1,0.72)" class="xl" text-anchor="end">organelle</text>
<text transform="translate(128.42,451) rotate(-75.2) scale(1,0.72)" class="xl" text-anchor="end">membrane</text>
<text transform="translate(132.17,451) rotate(-75.2) scale(1,0.72)" class="xl" text-anchor="end">organelle part</text>
<text transform="translate(135.92,451) rotate(-75.2) scale(1,0.72)" class="xl" text-anchor="end">membrane part</text>
<text transform="translate(139.67,451) rotate(-75.2) scale(1,0.72)" class="xl" text-anchor="end">macromolecular complex</text>
<text transform="translate(143.42,451) rotate(-75.2) scale(1,0.72)" class="xl" text-anchor="end">extracellular region</text>
<text transform="translate(147.17,451) rotate(-75.2) scale(1,0.72)" class="xl" text-anchor="end">membrane-enclosed lumen</text>
<text transform="translate(150.92,451) rotate(-75.2) scale(1,0.72)" class="xl" text-anchor="end">cell junction</text>
<text transform="translate(154.67,451) rotate(-75.2) scale(1,0.72)" class="xl" text-anchor="end">symplast</text>
<text transform="translate(158.42,451) rotate(-75.2) scale(1,0.72)" class="xl" text-anchor="end">synapse</text>
<text transform="translate(162.17,451) rotate(-75.2) scale(1,0.72)" class="xl" text-anchor="end">supramolecular fiber</text>
<text transform="translate(165.92,451) rotate(-75.2) scale(1,0.72)" class="xl" text-anchor="end">extracellular matrix</text>
<text transform="translate(169.67,451) rotate(-75.2) scale(1,0.72)" class="xl" text-anchor="end">synapse part</text>
<text transform="translate(173.42,451) rotate(-75.2) scale(1,0.72)" class="xl" text-anchor="end">nucleoid</text>
<text transform="translate(177.17,451) rotate(-75.2) scale(1,0.72)" class="xl" text-anchor="end">virion</text>
<text transform="translate(180.92,451) rotate(-75.2) scale(1,0.72)" class="xl" text-anchor="end">virion part</text>
<text transform="translate(184.91,451) rotate(-75.2) scale(1,0.72)" class="xl" text-anchor="end">binding</text>
<text transform="translate(188.67,451) rotate(-75.2) scale(1,0.72)" class="xl" text-anchor="end">catalytic activity</text>
<text transform="translate(192.42,451) rotate(-75.2) scale(1,0.72)" class="xl" text-anchor="end">transporter activity</text>
<text transform="translate(196.18,451) rotate(-75.2) scale(1,0.72)" class="xl" text-anchor="end">nucleic acid binding transcription factor activity</text>
<text transform="translate(199.94,451) rotate(-75.2) scale(1,0.72)" class="xl" text-anchor="end">structural molecule activity</text>
<text transform="translate(203.7,451) rotate(-75.2) scale(1,0.72)" class="xl" text-anchor="end">molecular function regulator</text>
<text transform="translate(207.46,451) rotate(-75.2) scale(1,0.72)" class="xl" text-anchor="end">electron carrier activity</text>
<text transform="translate(211.22,451) rotate(-75.2) scale(1,0.72)" class="xl" text-anchor="end">molecular transducer activity</text>
<text transform="translate(214.98,451) rotate(-75.2) scale(1,0.72)" class="xl" text-anchor="end">signal transducer activity</text>
<text transform="translate(218.74,451) rotate(-75.2) scale(1,0.72)" class="xl" text-anchor="end">antioxidant activity</text>
<text transform="translate(222.5,451) rotate(-75.2) scale(1,0.72)" class="xl" text-anchor="end">transcription factor activity, protein binding</text>
<text transform="translate(226.26,451) rotate(-75.2) scale(1,0.72)" class="xl" text-anchor="end">nutrient reservoir activity</text>
<text transform="translate(230.02,451) rotate(-75.2) scale(1,0.72)" class="xl" text-anchor="end">translation regulator activity</text>
<text transform="translate(233.78,451) rotate(-75.2) scale(1,0.72)" class="xl" text-anchor="end">metallochaperone activity</text>
<text transform="translate(237.54,451) rotate(-75.2) scale(1,0.72)" class="xl" text-anchor="end">toxin activity</text>
<text transform="translate(241.3,451) rotate(-75.2) scale(1,0.72)" class="xl" text-anchor="end">protein tag</text>
</g>
</g>
<g>
<text x="312.3" y="408.6" font-size="12" font-weight="normal" class="lt2">b</text>
<line x1="303.42" y1="407.1" x2="303.42" y2="445.4" class="ax"/>
<line x1="303.42" y1="445.4" x2="527.1" y2="445.4" class="ax"/>
<line x1="527.1" y1="406.3" x2="527.1" y2="445.4" class="axr"/>
<text x="300.94" y="408.4" class="tk" text-anchor="end">100</text>
<line x1="302.42" y1="407.1" x2="303.42" y2="407.1" class="ax"/>
<text x="300.94" y="421.17" class="tk" text-anchor="end">10</text>
<line x1="302.42" y1="419.87" x2="303.42" y2="419.87" class="ax"/>
<text x="300.94" y="433.93" class="tk" text-anchor="end">1</text>
<line x1="302.42" y1="432.63" x2="303.42" y2="432.63" class="ax"/>
<text x="300.94" y="446.7" class="tk" text-anchor="end">0.1</text>
<line x1="302.42" y1="445.4" x2="303.42" y2="445.4" class="ax"/>
<text transform="translate(295.1,429.9) rotate(-90)" class="yt" text-anchor="middle">Percentage of genes</text>
<text x="529.3" y="407.5" class="rb">12,186</text>
<text x="529.3" y="410.7" class="rk">24,865</text>
<text x="529.3" y="420.27" class="rb">1218</text>
<text x="529.3" y="423.47" class="rk">2486</text>
<text x="529.3" y="433.03" class="rb">121</text>
<text x="529.3" y="436.23" class="rk">248</text>
<text x="529.3" y="445.8" class="rb">12</text>
<text x="529.3" y="449" class="rk">24</text>
<text transform="translate(542.4,428.9) rotate(-90)" class="yt" text-anchor="middle">Number of genes</text>
<rect x="506.9" y="404.5" width="3.3" height="3" fill="#ee1c25"/>
<rect x="506.9" y="407.5" width="3.3" height="2.4" fill="#f7b0b4"/>
<rect x="510.45" y="404.5" width="3.3" height="3" fill="#2ca02c"/>
<rect x="510.45" y="407.5" width="3.3" height="2.4" fill="#b6e6a6"/>
<rect x="514" y="404.5" width="3.3" height="3" fill="#1f78c1"/>
<rect x="514" y="407.5" width="3.3" height="2.4" fill="#a9cdee"/>
<text x="518.1" y="406.8" class="rb">Diff</text>
<text x="518.7" y="409.5" class="rk">All</text>
<rect x="314.41" y="413.2" width="1.6" height="32.2" fill="#f9c4c4"/>
<rect x="312.51" y="412" width="2.0" height="33.4" fill="#ee1c25"/>
<rect x="318.17" y="413.4" width="1.6" height="32" fill="#f9c4c4"/>
<rect x="316.27" y="412.2" width="2.0" height="33.2" fill="#ee1c25"/>
<rect x="321.92" y="415.6" width="1.6" height="29.8" fill="#f9c4c4"/>
<rect x="320.02" y="414.4" width="2.0" height="31" fill="#ee1c25"/>
<rect x="325.67" y="417.2" width="1.6" height="28.2" fill="#f9c4c4"/>
<rect x="323.77" y="416" width="2.0" height="29.4" fill="#ee1c25"/>
<rect x="329.42" y="420.7" width="1.6" height="24.7" fill="#f9c4c4"/>
<rect x="327.52" y="419.5" width="2.0" height="25.9" fill="#ee1c25"/>
<rect x="333.18" y="421" width="1.6" height="24.4" fill="#f9c4c4"/>
<rect x="331.28" y="419.8" width="2.0" height="25.6" fill="#ee1c25"/>
<rect x="336.93" y="422.1" width="1.6" height="23.3" fill="#f9c4c4"/>
<rect x="335.03" y="420.9" width="2.0" height="24.5" fill="#ee1c25"/>
<rect x="340.68" y="426.3" width="1.6" height="19.1" fill="#f9c4c4"/>
<rect x="338.78" y="425.1" width="2.0" height="20.3" fill="#ee1c25"/>
<rect x="344.43" y="427.3" width="1.6" height="18.1" fill="#f9c4c4"/>
<rect x="342.53" y="426.1" width="2.0" height="19.3" fill="#ee1c25"/>
<rect x="348.18" y="430.1" width="1.6" height="15.3" fill="#f9c4c4"/>
<rect x="346.28" y="428.9" width="2.0" height="16.5" fill="#ee1c25"/>
<rect x="351.94" y="429.9" width="1.6" height="15.5" fill="#f9c4c4"/>
<rect x="350.04" y="428.7" width="2.0" height="16.7" fill="#ee1c25"/>
<rect x="355.69" y="430.1" width="1.6" height="15.3" fill="#f9c4c4"/>
<rect x="353.79" y="428.9" width="2.0" height="16.5" fill="#ee1c25"/>
<rect x="359.44" y="433" width="1.6" height="12.4" fill="#f9c4c4"/>
<rect x="357.54" y="431.8" width="2.0" height="13.6" fill="#ee1c25"/>
<rect x="363.19" y="435.7" width="1.6" height="9.7" fill="#f9c4c4"/>
<rect x="361.29" y="434.5" width="2.0" height="10.9" fill="#ee1c25"/>
<rect x="366.94" y="440.1" width="1.6" height="5.3" fill="#f9c4c4"/>
<rect x="365.04" y="438.9" width="2.0" height="6.5" fill="#ee1c25"/>
<rect x="370.7" y="440.1" width="1.6" height="5.3" fill="#f9c4c4"/>
<rect x="368.8" y="438.9" width="2.0" height="6.5" fill="#ee1c25"/>
<rect x="374.45" y="445.1" width="1.6" height="0.3" fill="#f9c4c4"/>
<rect x="372.55" y="444.9" width="2.0" height="0.5" fill="#ee1c25"/>
<line x1="313.51" y1="445.4" x2="313.51" y2="446.4" class="tm"/>
<line x1="317.27" y1="445.4" x2="317.27" y2="446.4" class="tm"/>
<line x1="321.02" y1="445.4" x2="321.02" y2="446.4" class="tm"/>
<line x1="324.77" y1="445.4" x2="324.77" y2="446.4" class="tm"/>
<line x1="328.52" y1="445.4" x2="328.52" y2="446.4" class="tm"/>
<line x1="332.28" y1="445.4" x2="332.28" y2="446.4" class="tm"/>
<line x1="336.03" y1="445.4" x2="336.03" y2="446.4" class="tm"/>
<line x1="339.78" y1="445.4" x2="339.78" y2="446.4" class="tm"/>
<line x1="343.53" y1="445.4" x2="343.53" y2="446.4" class="tm"/>
<line x1="347.28" y1="445.4" x2="347.28" y2="446.4" class="tm"/>
<line x1="351.04" y1="445.4" x2="351.04" y2="446.4" class="tm"/>
<line x1="354.79" y1="445.4" x2="354.79" y2="446.4" class="tm"/>
<line x1="358.54" y1="445.4" x2="358.54" y2="446.4" class="tm"/>
<line x1="362.29" y1="445.4" x2="362.29" y2="446.4" class="tm"/>
<line x1="366.04" y1="445.4" x2="366.04" y2="446.4" class="tm"/>
<line x1="369.8" y1="445.4" x2="369.8" y2="446.4" class="tm"/>
<line x1="373.55" y1="445.4" x2="373.55" y2="446.4" class="tm"/>
<line x1="377.3" y1="445.4" x2="377.3" y2="446.4" class="tm"/>
<line x1="381.05" y1="445.4" x2="381.05" y2="446.4" class="tm"/>
<line x1="384.8" y1="445.4" x2="384.8" y2="446.4" class="tm"/>
<line x1="388.56" y1="445.4" x2="388.56" y2="446.4" class="tm"/>
<line x1="304.68" y1="477.4" x2="289.4" y2="533.37" class="br"/>
<line x1="289.4" y1="571.1" x2="355" y2="571.1" class="hl"/>
<text x="300.55" y="574.6" class="ct">biological process</text>
<rect x="393.02" y="412.8" width="1.6" height="32.6" fill="#cdeebc"/>
<rect x="391.12" y="411.6" width="2.0" height="33.8" fill="#2ca02c"/>
<rect x="396.75" y="412.8" width="1.6" height="32.6" fill="#cdeebc"/>
<rect x="394.85" y="411.6" width="2.0" height="33.8" fill="#2ca02c"/>
<rect x="400.49" y="414.6" width="1.6" height="30.8" fill="#cdeebc"/>
<rect x="398.59" y="413.4" width="2.0" height="32" fill="#2ca02c"/>
<rect x="404.22" y="415.4" width="1.6" height="30" fill="#cdeebc"/>
<rect x="402.32" y="414.2" width="2.0" height="31.2" fill="#2ca02c"/>
<rect x="407.95" y="416.5" width="1.6" height="28.9" fill="#cdeebc"/>
<rect x="406.05" y="415.3" width="2.0" height="30.1" fill="#2ca02c"/>
<rect x="411.68" y="420.1" width="1.6" height="25.3" fill="#cdeebc"/>
<rect x="409.78" y="418.9" width="2.0" height="26.5" fill="#2ca02c"/>
<rect x="415.41" y="420.8" width="1.6" height="24.6" fill="#cdeebc"/>
<rect x="413.51" y="419.6" width="2.0" height="25.8" fill="#2ca02c"/>
<rect x="419.15" y="430.3" width="1.6" height="15.1" fill="#cdeebc"/>
<rect x="417.25" y="429.1" width="2.0" height="16.3" fill="#2ca02c"/>
<rect x="422.88" y="428.4" width="1.6" height="17" fill="#cdeebc"/>
<rect x="420.98" y="427.2" width="2.0" height="18.2" fill="#2ca02c"/>
<rect x="426.61" y="435" width="1.6" height="10.4" fill="#cdeebc"/>
<rect x="424.71" y="433.8" width="2.0" height="11.6" fill="#2ca02c"/>
<rect x="430.34" y="435" width="1.6" height="10.4" fill="#cdeebc"/>
<rect x="428.44" y="433.8" width="2.0" height="11.6" fill="#2ca02c"/>
<rect x="434.08" y="435" width="1.6" height="10.4" fill="#cdeebc"/>
<rect x="432.18" y="433.8" width="2.0" height="11.6" fill="#2ca02c"/>
<rect x="437.81" y="434.7" width="1.6" height="10.7" fill="#cdeebc"/>
<rect x="435.91" y="433.5" width="2.0" height="11.9" fill="#2ca02c"/>
<rect x="441.54" y="442.2" width="1.6" height="3.2" fill="#cdeebc"/>
<rect x="439.64" y="441" width="2.0" height="4.4" fill="#2ca02c"/>
<rect x="445.27" y="443" width="1.6" height="2.4" fill="#cdeebc"/>
<rect x="443.37" y="441.8" width="2.0" height="3.6" fill="#2ca02c"/>
<line x1="392.12" y1="445.4" x2="392.12" y2="446.4" class="tm"/>
<line x1="395.85" y1="445.4" x2="395.85" y2="446.4" class="tm"/>
<line x1="399.59" y1="445.4" x2="399.59" y2="446.4" class="tm"/>
<line x1="403.32" y1="445.4" x2="403.32" y2="446.4" class="tm"/>
<line x1="407.05" y1="445.4" x2="407.05" y2="446.4" class="tm"/>
<line x1="410.78" y1="445.4" x2="410.78" y2="446.4" class="tm"/>
<line x1="414.51" y1="445.4" x2="414.51" y2="446.4" class="tm"/>
<line x1="418.25" y1="445.4" x2="418.25" y2="446.4" class="tm"/>
<line x1="421.98" y1="445.4" x2="421.98" y2="446.4" class="tm"/>
<line x1="425.71" y1="445.4" x2="425.71" y2="446.4" class="tm"/>
<line x1="429.44" y1="445.4" x2="429.44" y2="446.4" class="tm"/>
<line x1="433.18" y1="445.4" x2="433.18" y2="446.4" class="tm"/>
<line x1="436.91" y1="445.4" x2="436.91" y2="446.4" class="tm"/>
<line x1="440.64" y1="445.4" x2="440.64" y2="446.4" class="tm"/>
<line x1="444.37" y1="445.4" x2="444.37" y2="446.4" class="tm"/>
<line x1="448.11" y1="445.4" x2="448.11" y2="446.4" class="tm"/>
<line x1="451.84" y1="445.4" x2="451.84" y2="446.4" class="tm"/>
<line x1="455.57" y1="445.4" x2="455.57" y2="446.4" class="tm"/>
<line x1="392.11" y1="445.8" x2="357.63" y2="572.1" class="br"/>
<line x1="455.78" y1="445.8" x2="421.19" y2="572.1" class="br"/>
<line x1="358.46" y1="571.1" x2="421.52" y2="571.1" class="hl"/>
<text x="372.62" y="574.6" class="ct">cellular component</text>
<rect x="460.44" y="412.4" width="1.6" height="33" fill="#bfdaf0"/>
<rect x="458.54" y="411.2" width="2.0" height="34.2" fill="#1f78c1"/>
<rect x="464.18" y="413.6" width="1.6" height="31.8" fill="#bfdaf0"/>
<rect x="462.28" y="412.4" width="2.0" height="33" fill="#1f78c1"/>
<rect x="467.92" y="424.3" width="1.6" height="21.1" fill="#bfdaf0"/>
<rect x="466.02" y="423.1" width="2.0" height="22.3" fill="#1f78c1"/>
<rect x="471.67" y="426.7" width="1.6" height="18.7" fill="#bfdaf0"/>
<rect x="469.77" y="425.5" width="2.0" height="19.9" fill="#1f78c1"/>
<rect x="475.41" y="430.6" width="1.6" height="14.8" fill="#bfdaf0"/>
<rect x="473.51" y="429.4" width="2.0" height="16" fill="#1f78c1"/>
<rect x="479.15" y="431" width="1.6" height="14.4" fill="#bfdaf0"/>
<rect x="477.25" y="429.8" width="2.0" height="15.6" fill="#1f78c1"/>
<rect x="482.89" y="432.8" width="1.6" height="12.6" fill="#bfdaf0"/>
<rect x="480.99" y="431.6" width="2.0" height="13.8" fill="#1f78c1"/>
<rect x="486.64" y="433.8" width="1.6" height="11.6" fill="#bfdaf0"/>
<rect x="484.74" y="432.6" width="2.0" height="12.8" fill="#1f78c1"/>
<rect x="490.38" y="437.1" width="1.6" height="8.3" fill="#bfdaf0"/>
<rect x="488.48" y="435.9" width="2.0" height="9.5" fill="#1f78c1"/>
<rect x="494.12" y="437.1" width="1.6" height="8.3" fill="#bfdaf0"/>
<rect x="492.22" y="435.9" width="2.0" height="9.5" fill="#1f78c1"/>
<rect x="497.86" y="436" width="1.6" height="9.4" fill="#bfdaf0"/>
<rect x="495.96" y="434.8" width="2.0" height="10.6" fill="#1f78c1"/>
<rect x="501.6" y="441.9" width="1.6" height="3.5" fill="#bfdaf0"/>
<rect x="499.7" y="440.7" width="2.0" height="4.7" fill="#1f78c1"/>
<line x1="459.54" y1="445.4" x2="459.54" y2="446.4" class="tm"/>
<line x1="463.28" y1="445.4" x2="463.28" y2="446.4" class="tm"/>
<line x1="467.02" y1="445.4" x2="467.02" y2="446.4" class="tm"/>
<line x1="470.77" y1="445.4" x2="470.77" y2="446.4" class="tm"/>
<line x1="474.51" y1="445.4" x2="474.51" y2="446.4" class="tm"/>
<line x1="478.25" y1="445.4" x2="478.25" y2="446.4" class="tm"/>
<line x1="481.99" y1="445.4" x2="481.99" y2="446.4" class="tm"/>
<line x1="485.74" y1="445.4" x2="485.74" y2="446.4" class="tm"/>
<line x1="489.48" y1="445.4" x2="489.48" y2="446.4" class="tm"/>
<line x1="493.22" y1="445.4" x2="493.22" y2="446.4" class="tm"/>
<line x1="496.96" y1="445.4" x2="496.96" y2="446.4" class="tm"/>
<line x1="500.7" y1="445.4" x2="500.7" y2="446.4" class="tm"/>
<line x1="504.45" y1="445.4" x2="504.45" y2="446.4" class="tm"/>
<line x1="508.19" y1="445.4" x2="508.19" y2="446.4" class="tm"/>
<line x1="511.93" y1="445.4" x2="511.93" y2="446.4" class="tm"/>
<line x1="515.67" y1="445.4" x2="515.67" y2="446.4" class="tm"/>
<line x1="459.53" y1="445.8" x2="425.05" y2="572.1" class="br"/>
<line x1="516.27" y1="445.8" x2="481.68" y2="572.1" class="br"/>
<line x1="425.38" y1="571.1" x2="482.01" y2="571.1" class="hl"/>
<text x="436.77" y="574.6" class="ct">molecular function</text>
<g filter="url(#soft)">
<text transform="translate(312.01,451) rotate(-75.2) scale(1,0.72)" class="xl" text-anchor="end">cellular process</text>
<text transform="translate(315.77,451) rotate(-75.2) scale(1,0.72)" class="xl" text-anchor="end">metabolic process</text>
<text transform="translate(319.52,451) rotate(-75.2) scale(1,0.72)" class="xl" text-anchor="end">single-organism process</text>
<text transform="translate(323.27,451) rotate(-75.2) scale(1,0.72)" class="xl" text-anchor="end">biological regulation</text>
<text transform="translate(327.02,451) rotate(-75.2) scale(1,0.72)" class="xl" text-anchor="end">response to stimulus</text>
<text transform="translate(330.78,451) rotate(-75.2) scale(1,0.72)" class="xl" text-anchor="end">developmental process</text>
<text transform="translate(334.53,451) rotate(-75.2) scale(1,0.72)" class="xl" text-anchor="end">cellular component organization or biogenesis</text>
<text transform="translate(338.28,451) rotate(-75.2) scale(1,0.72)" class="xl" text-anchor="end">localization</text>
<text transform="translate(342.03,451) rotate(-75.2) scale(1,0.72)" class="xl" text-anchor="end">reproductive process</text>
<text transform="translate(345.78,451) rotate(-75.2) scale(1,0.72)" class="xl" text-anchor="end">signaling</text>
<text transform="translate(349.54,451) rotate(-75.2) scale(1,0.72)" class="xl" text-anchor="end">multicellular organismal process</text>
<text transform="translate(353.29,451) rotate(-75.2) scale(1,0.72)" class="xl" text-anchor="end">reproduction</text>
<text transform="translate(357.04,451) rotate(-75.2) scale(1,0.72)" class="xl" text-anchor="end">multi-organism process</text>
<text transform="translate(360.79,451) rotate(-75.2) scale(1,0.72)" class="xl" text-anchor="end">immune system process</text>
<text transform="translate(364.54,451) rotate(-75.2) scale(1,0.72)" class="xl" text-anchor="end">growth</text>
<text transform="translate(368.3,451) rotate(-75.2) scale(1,0.72)" class="xl" text-anchor="end">rhythmic process</text>
<text transform="translate(372.05,451) rotate(-75.2) scale(1,0.72)" class="xl" text-anchor="end">detoxification</text>
<text transform="translate(375.8,451) rotate(-75.2) scale(1,0.72)" class="xl" text-anchor="end">locomotion</text>
<text transform="translate(379.55,451) rotate(-75.2) scale(1,0.72)" class="xl" text-anchor="end">biological adhesion</text>
<text transform="translate(383.3,451) rotate(-75.2) scale(1,0.72)" class="xl" text-anchor="end">cell killing</text>
<text transform="translate(387.06,451) rotate(-75.2) scale(1,0.72)" class="xl" text-anchor="end">presynaptic process involved in chemical synaptic transmission</text>
<text transform="translate(390.62,451) rotate(-75.2) scale(1,0.72)" class="xl" text-anchor="end">cell</text>
<text transform="translate(394.35,451) rotate(-75.2) scale(1,0.72)" class="xl" text-anchor="end">cell part</text>
<text transform="translate(398.09,451) rotate(-75.2) scale(1,0.72)" class="xl" text-anchor="end">organelle</text>
<text transform="translate(401.82,451) rotate(-75.2) scale(1,0.72)" class="xl" text-anchor="end">membrane</text>
<text transform="translate(405.55,451) rotate(-75.2) scale(1,0.72)" class="xl" text-anchor="end">organelle part</text>
<text transform="translate(409.28,451) rotate(-75.2) scale(1,0.72)" class="xl" text-anchor="end">membrane part</text>
<text transform="translate(413.01,451) rotate(-75.2) scale(1,0.72)" class="xl" text-anchor="end">macromolecular complex</text>
<text transform="translate(416.75,451) rotate(-75.2) scale(1,0.72)" class="xl" text-anchor="end">extracellular region</text>
<text transform="translate(420.48,451) rotate(-75.2) scale(1,0.72)" class="xl" text-anchor="end">membrane-enclosed lumen</text>
<text transform="translate(424.21,451) rotate(-75.2) scale(1,0.72)" class="xl" text-anchor="end">cell junction</text>
<text transform="translate(427.94,451) rotate(-75.2) scale(1,0.72)" class="xl" text-anchor="end">symplast</text>
<text transform="translate(431.68,451) rotate(-75.2) scale(1,0.72)" class="xl" text-anchor="end">synapse</text>
<text transform="translate(435.41,451) rotate(-75.2) scale(1,0.72)" class="xl" text-anchor="end">supramolecular fiber</text>
<text transform="translate(439.14,451) rotate(-75.2) scale(1,0.72)" class="xl" text-anchor="end">extracellular matrix</text>
<text transform="translate(442.87,451) rotate(-75.2) scale(1,0.72)" class="xl" text-anchor="end">synapse part</text>
<text transform="translate(446.61,451) rotate(-75.2) scale(1,0.72)" class="xl" text-anchor="end">nucleoid</text>
<text transform="translate(450.34,451) rotate(-75.2) scale(1,0.72)" class="xl" text-anchor="end">virion</text>
<text transform="translate(454.07,451) rotate(-75.2) scale(1,0.72)" class="xl" text-anchor="end">virion part</text>
<text transform="translate(458.04,451) rotate(-75.2) scale(1,0.72)" class="xl" text-anchor="end">binding</text>
<text transform="translate(461.78,451) rotate(-75.2) scale(1,0.72)" class="xl" text-anchor="end">catalytic activity</text>
<text transform="translate(465.52,451) rotate(-75.2) scale(1,0.72)" class="xl" text-anchor="end">transporter activity</text>
<text transform="translate(469.27,451) rotate(-75.2) scale(1,0.72)" class="xl" text-anchor="end">nucleic acid binding transcription factor activity</text>
<text transform="translate(473.01,451) rotate(-75.2) scale(1,0.72)" class="xl" text-anchor="end">structural molecule activity</text>
<text transform="translate(476.75,451) rotate(-75.2) scale(1,0.72)" class="xl" text-anchor="end">molecular function regulator</text>
<text transform="translate(480.49,451) rotate(-75.2) scale(1,0.72)" class="xl" text-anchor="end">electron carrier activity</text>
<text transform="translate(484.24,451) rotate(-75.2) scale(1,0.72)" class="xl" text-anchor="end">molecular transducer activity</text>
<text transform="translate(487.98,451) rotate(-75.2) scale(1,0.72)" class="xl" text-anchor="end">signal transducer activity</text>
<text transform="translate(491.72,451) rotate(-75.2) scale(1,0.72)" class="xl" text-anchor="end">antioxidant activity</text>
<text transform="translate(495.46,451) rotate(-75.2) scale(1,0.72)" class="xl" text-anchor="end">transcription factor activity, protein binding</text>
<text transform="translate(499.2,451) rotate(-75.2) scale(1,0.72)" class="xl" text-anchor="end">nutrient reservoir activity</text>
<text transform="translate(502.95,451) rotate(-75.2) scale(1,0.72)" class="xl" text-anchor="end">translation regulator activity</text>
<text transform="translate(506.69,451) rotate(-75.2) scale(1,0.72)" class="xl" text-anchor="end">metallochaperone activity</text>
<text transform="translate(510.43,451) rotate(-75.2) scale(1,0.72)" class="xl" text-anchor="end">toxin activity</text>
<text transform="translate(514.17,451) rotate(-75.2) scale(1,0.72)" class="xl" text-anchor="end">protein tag</text>
</g>
</g>
<g>
<text x="39" y="602.3" font-size="12" font-weight="bold" class="lt">c</text>
<line x1="29.56" y1="600.3" x2="29.56" y2="638.6" class="ax"/>
<line x1="29.56" y1="638.6" x2="252.2" y2="638.6" class="ax"/>
<line x1="252.2" y1="599.5" x2="252.2" y2="638.6" class="axr"/>
<text x="27.07" y="601.6" class="tk" text-anchor="end">100</text>
<line x1="28.56" y1="600.3" x2="29.56" y2="600.3" class="ax"/>
<text x="27.07" y="614.37" class="tk" text-anchor="end">10</text>
<line x1="28.56" y1="613.07" x2="29.56" y2="613.07" class="ax"/>
<text x="27.07" y="627.13" class="tk" text-anchor="end">1</text>
<line x1="28.56" y1="625.83" x2="29.56" y2="625.83" class="ax"/>
<text x="27.07" y="639.9" class="tk" text-anchor="end">0.1</text>
<line x1="28.56" y1="638.6" x2="29.56" y2="638.6" class="ax"/>
<text transform="translate(21.2,623.1) rotate(-90)" class="yt" text-anchor="middle">Percentage of genes</text>
<text x="254.4" y="600.7" class="rb">13,126</text>
<text x="254.4" y="603.9" class="rk">24,865</text>
<text x="254.4" y="613.47" class="rb">1312</text>
<text x="254.4" y="616.67" class="rk">2486</text>
<text x="254.4" y="626.23" class="rb">131</text>
<text x="254.4" y="629.43" class="rk">248</text>
<text x="254.4" y="639" class="rb">13</text>
<text x="254.4" y="642.2" class="rk">24</text>
<text transform="translate(267.5,622.1) rotate(-90)" class="yt" text-anchor="middle">Number of genes</text>
<rect x="232" y="597.7" width="3.3" height="3" fill="#ee1c25"/>
<rect x="232" y="600.7" width="3.3" height="2.4" fill="#f7b0b4"/>
<rect x="235.55" y="597.7" width="3.3" height="3" fill="#2ca02c"/>
<rect x="235.55" y="600.7" width="3.3" height="2.4" fill="#b6e6a6"/>
<rect x="239.1" y="597.7" width="3.3" height="3" fill="#1f78c1"/>
<rect x="239.1" y="600.7" width="3.3" height="2.4" fill="#a9cdee"/>
<text x="243.2" y="600" class="rb">Diff</text>
<text x="243.8" y="602.7" class="rk">All</text>
<rect x="40.6" y="606.4" width="1.6" height="32.2" fill="#f9c4c4"/>
<rect x="38.7" y="605.2" width="2.0" height="33.4" fill="#ee1c25"/>
<rect x="44.37" y="606.6" width="1.6" height="32" fill="#f9c4c4"/>
<rect x="42.47" y="605.4" width="2.0" height="33.2" fill="#ee1c25"/>
<rect x="48.14" y="608.8" width="1.6" height="29.8" fill="#f9c4c4"/>
<rect x="46.24" y="607.6" width="2.0" height="31" fill="#ee1c25"/>
<rect x="51.91" y="610.4" width="1.6" height="28.2" fill="#f9c4c4"/>
<rect x="50.01" y="609.2" width="2.0" height="29.4" fill="#ee1c25"/>
<rect x="55.68" y="613.9" width="1.6" height="24.7" fill="#f9c4c4"/>
<rect x="53.78" y="612.7" width="2.0" height="25.9" fill="#ee1c25"/>
<rect x="59.45" y="614.2" width="1.6" height="24.4" fill="#f9c4c4"/>
<rect x="57.55" y="613" width="2.0" height="25.6" fill="#ee1c25"/>
<rect x="63.22" y="615.3" width="1.6" height="23.3" fill="#f9c4c4"/>
<rect x="61.32" y="614.1" width="2.0" height="24.5" fill="#ee1c25"/>
<rect x="66.99" y="619.5" width="1.6" height="19.1" fill="#f9c4c4"/>
<rect x="65.09" y="618.3" width="2.0" height="20.3" fill="#ee1c25"/>
<rect x="70.76" y="620.5" width="1.6" height="18.1" fill="#f9c4c4"/>
<rect x="68.86" y="619.3" width="2.0" height="19.3" fill="#ee1c25"/>
<rect x="74.53" y="623.3" width="1.6" height="15.3" fill="#f9c4c4"/>
<rect x="72.63" y="622.1" width="2.0" height="16.5" fill="#ee1c25"/>
<rect x="78.3" y="623.1" width="1.6" height="15.5" fill="#f9c4c4"/>
<rect x="76.4" y="621.9" width="2.0" height="16.7" fill="#ee1c25"/>
<rect x="82.07" y="623.3" width="1.6" height="15.3" fill="#f9c4c4"/>
<rect x="80.17" y="622.1" width="2.0" height="16.5" fill="#ee1c25"/>
<rect x="85.84" y="626.2" width="1.6" height="12.4" fill="#f9c4c4"/>
<rect x="83.94" y="625" width="2.0" height="13.6" fill="#ee1c25"/>
<rect x="89.61" y="628.9" width="1.6" height="9.7" fill="#f9c4c4"/>
<rect x="87.71" y="627.7" width="2.0" height="10.9" fill="#ee1c25"/>
<rect x="93.38" y="633.1" width="1.6" height="5.5" fill="#f9c4c4"/>
<rect x="91.48" y="631.9" width="2.0" height="6.7" fill="#ee1c25"/>
<rect x="97.15" y="633.1" width="1.6" height="5.5" fill="#f9c4c4"/>
<rect x="95.25" y="631.9" width="2.0" height="6.7" fill="#ee1c25"/>
<rect x="100.91" y="638.3" width="1.6" height="0.3" fill="#f9c4c4"/>
<rect x="99.01" y="638.1" width="2.0" height="0.5" fill="#ee1c25"/>
<line x1="39.7" y1="638.6" x2="39.7" y2="639.6" class="tm"/>
<line x1="43.47" y1="638.6" x2="43.47" y2="639.6" class="tm"/>
<line x1="47.24" y1="638.6" x2="47.24" y2="639.6" class="tm"/>
<line x1="51.01" y1="638.6" x2="51.01" y2="639.6" class="tm"/>
<line x1="54.78" y1="638.6" x2="54.78" y2="639.6" class="tm"/>
<line x1="58.55" y1="638.6" x2="58.55" y2="639.6" class="tm"/>
<line x1="62.32" y1="638.6" x2="62.32" y2="639.6" class="tm"/>
<line x1="66.09" y1="638.6" x2="66.09" y2="639.6" class="tm"/>
<line x1="69.86" y1="638.6" x2="69.86" y2="639.6" class="tm"/>
<line x1="73.63" y1="638.6" x2="73.63" y2="639.6" class="tm"/>
<line x1="77.4" y1="638.6" x2="77.4" y2="639.6" class="tm"/>
<line x1="81.17" y1="638.6" x2="81.17" y2="639.6" class="tm"/>
<line x1="84.94" y1="638.6" x2="84.94" y2="639.6" class="tm"/>
<line x1="88.71" y1="638.6" x2="88.71" y2="639.6" class="tm"/>
<line x1="92.48" y1="638.6" x2="92.48" y2="639.6" class="tm"/>
<line x1="96.25" y1="638.6" x2="96.25" y2="639.6" class="tm"/>
<line x1="100.01" y1="638.6" x2="100.01" y2="639.6" class="tm"/>
<line x1="103.78" y1="638.6" x2="103.78" y2="639.6" class="tm"/>
<line x1="107.55" y1="638.6" x2="107.55" y2="639.6" class="tm"/>
<line x1="111.32" y1="638.6" x2="111.32" y2="639.6" class="tm"/>
<line x1="115.09" y1="638.6" x2="115.09" y2="639.6" class="tm"/>
<line x1="30.87" y1="670.6" x2="15.41" y2="727.22" class="br"/>
<line x1="15.41" y1="765.1" x2="81.38" y2="765.1" class="hl"/>
<text x="26.67" y="768.6" class="ct">biological process</text>
<rect x="119.57" y="606" width="1.6" height="32.6" fill="#cdeebc"/>
<rect x="117.67" y="604.8" width="2.0" height="33.8" fill="#2ca02c"/>
<rect x="123.32" y="606" width="1.6" height="32.6" fill="#cdeebc"/>
<rect x="121.42" y="604.8" width="2.0" height="33.8" fill="#2ca02c"/>
<rect x="127.07" y="607.8" width="1.6" height="30.8" fill="#cdeebc"/>
<rect x="125.17" y="606.6" width="2.0" height="32" fill="#2ca02c"/>
<rect x="130.82" y="608.6" width="1.6" height="30" fill="#cdeebc"/>
<rect x="128.92" y="607.4" width="2.0" height="31.2" fill="#2ca02c"/>
<rect x="134.57" y="609.7" width="1.6" height="28.9" fill="#cdeebc"/>
<rect x="132.67" y="608.5" width="2.0" height="30.1" fill="#2ca02c"/>
<rect x="138.32" y="613.3" width="1.6" height="25.3" fill="#cdeebc"/>
<rect x="136.42" y="612.1" width="2.0" height="26.5" fill="#2ca02c"/>
<rect x="142.07" y="614" width="1.6" height="24.6" fill="#cdeebc"/>
<rect x="140.17" y="612.8" width="2.0" height="25.8" fill="#2ca02c"/>
<rect x="145.82" y="624.2" width="1.6" height="14.4" fill="#cdeebc"/>
<rect x="143.92" y="623" width="2.0" height="15.6" fill="#2ca02c"/>
<rect x="149.57" y="622" width="1.6" height="16.6" fill="#cdeebc"/>
<rect x="147.67" y="620.8" width="2.0" height="17.8" fill="#2ca02c"/>
<rect x="153.32" y="628.2" width="1.6" height="10.4" fill="#cdeebc"/>
<rect x="151.42" y="627" width="2.0" height="11.6" fill="#2ca02c"/>
<rect x="157.07" y="628.2" width="1.6" height="10.4" fill="#cdeebc"/>
<rect x="155.17" y="627" width="2.0" height="11.6" fill="#2ca02c"/>
<rect x="160.82" y="628.2" width="1.6" height="10.4" fill="#cdeebc"/>
<rect x="158.92" y="627" width="2.0" height="11.6" fill="#2ca02c"/>
<rect x="164.57" y="628.9" width="1.6" height="9.7" fill="#cdeebc"/>
<rect x="162.67" y="627.7" width="2.0" height="10.9" fill="#2ca02c"/>
<rect x="168.32" y="635.1" width="1.6" height="3.5" fill="#cdeebc"/>
<rect x="166.42" y="633.9" width="2.0" height="4.7" fill="#2ca02c"/>
<rect x="172.07" y="636.9" width="1.6" height="1.7" fill="#cdeebc"/>
<rect x="170.17" y="635.7" width="2.0" height="2.9" fill="#2ca02c"/>
<line x1="118.67" y1="638.6" x2="118.67" y2="639.6" class="tm"/>
<line x1="122.42" y1="638.6" x2="122.42" y2="639.6" class="tm"/>
<line x1="126.17" y1="638.6" x2="126.17" y2="639.6" class="tm"/>
<line x1="129.92" y1="638.6" x2="129.92" y2="639.6" class="tm"/>
<line x1="133.67" y1="638.6" x2="133.67" y2="639.6" class="tm"/>
<line x1="137.42" y1="638.6" x2="137.42" y2="639.6" class="tm"/>
<line x1="141.17" y1="638.6" x2="141.17" y2="639.6" class="tm"/>
<line x1="144.92" y1="638.6" x2="144.92" y2="639.6" class="tm"/>
<line x1="148.67" y1="638.6" x2="148.67" y2="639.6" class="tm"/>
<line x1="152.42" y1="638.6" x2="152.42" y2="639.6" class="tm"/>
<line x1="156.17" y1="638.6" x2="156.17" y2="639.6" class="tm"/>
<line x1="159.92" y1="638.6" x2="159.92" y2="639.6" class="tm"/>
<line x1="163.67" y1="638.6" x2="163.67" y2="639.6" class="tm"/>
<line x1="167.42" y1="638.6" x2="167.42" y2="639.6" class="tm"/>
<line x1="171.17" y1="638.6" x2="171.17" y2="639.6" class="tm"/>
<line x1="174.92" y1="638.6" x2="174.92" y2="639.6" class="tm"/>
<line x1="178.67" y1="638.6" x2="178.67" y2="639.6" class="tm"/>
<line x1="182.42" y1="638.6" x2="182.42" y2="639.6" class="tm"/>
<line x1="118.66" y1="639" x2="84.18" y2="765.3" class="br"/>
<line x1="182.63" y1="639" x2="148.04" y2="765.3" class="br"/>
<line x1="84.86" y1="765.1" x2="148.21" y2="765.1" class="hl"/>
<text x="99.08" y="768.6" class="ct">cellular component</text>
<rect x="187.31" y="605.9" width="1.6" height="32.7" fill="#bfdaf0"/>
<rect x="185.41" y="604.7" width="2.0" height="33.9" fill="#1f78c1"/>
<rect x="191.07" y="607.4" width="1.6" height="31.2" fill="#bfdaf0"/>
<rect x="189.17" y="606.2" width="2.0" height="32.4" fill="#1f78c1"/>
<rect x="194.82" y="617.7" width="1.6" height="20.9" fill="#bfdaf0"/>
<rect x="192.92" y="616.5" width="2.0" height="22.1" fill="#1f78c1"/>
<rect x="198.58" y="619.9" width="1.6" height="18.7" fill="#bfdaf0"/>
<rect x="196.68" y="618.7" width="2.0" height="19.9" fill="#1f78c1"/>
<rect x="202.34" y="624.1" width="1.6" height="14.5" fill="#bfdaf0"/>
<rect x="200.44" y="622.9" width="2.0" height="15.7" fill="#1f78c1"/>
<rect x="206.1" y="624.5" width="1.6" height="14.1" fill="#bfdaf0"/>
<rect x="204.2" y="623.3" width="2.0" height="15.3" fill="#1f78c1"/>
<rect x="209.86" y="626.4" width="1.6" height="12.2" fill="#bfdaf0"/>
<rect x="207.96" y="625.2" width="2.0" height="13.4" fill="#1f78c1"/>
<rect x="213.62" y="627.4" width="1.6" height="11.2" fill="#bfdaf0"/>
<rect x="211.72" y="626.2" width="2.0" height="12.4" fill="#1f78c1"/>
<rect x="217.38" y="630.3" width="1.6" height="8.3" fill="#bfdaf0"/>
<rect x="215.48" y="629.1" width="2.0" height="9.5" fill="#1f78c1"/>
<rect x="221.14" y="630.1" width="1.6" height="8.5" fill="#bfdaf0"/>
<rect x="219.24" y="628.9" width="2.0" height="9.7" fill="#1f78c1"/>
<rect x="224.9" y="629.6" width="1.6" height="9" fill="#bfdaf0"/>
<rect x="223" y="628.4" width="2.0" height="10.2" fill="#1f78c1"/>
<rect x="228.66" y="637.6" width="1.6" height="1" fill="#bfdaf0"/>
<rect x="226.76" y="636.4" width="2.0" height="2.2" fill="#1f78c1"/>
<line x1="186.41" y1="638.6" x2="186.41" y2="639.6" class="tm"/>
<line x1="190.17" y1="638.6" x2="190.17" y2="639.6" class="tm"/>
<line x1="193.92" y1="638.6" x2="193.92" y2="639.6" class="tm"/>
<line x1="197.68" y1="638.6" x2="197.68" y2="639.6" class="tm"/>
<line x1="201.44" y1="638.6" x2="201.44" y2="639.6" class="tm"/>
<line x1="205.2" y1="638.6" x2="205.2" y2="639.6" class="tm"/>
<line x1="208.96" y1="638.6" x2="208.96" y2="639.6" class="tm"/>
<line x1="212.72" y1="638.6" x2="212.72" y2="639.6" class="tm"/>
<line x1="216.48" y1="638.6" x2="216.48" y2="639.6" class="tm"/>
<line x1="220.24" y1="638.6" x2="220.24" y2="639.6" class="tm"/>
<line x1="224" y1="638.6" x2="224" y2="639.6" class="tm"/>
<line x1="227.76" y1="638.6" x2="227.76" y2="639.6" class="tm"/>
<line x1="231.52" y1="638.6" x2="231.52" y2="639.6" class="tm"/>
<line x1="235.28" y1="638.6" x2="235.28" y2="639.6" class="tm"/>
<line x1="239.04" y1="638.6" x2="239.04" y2="639.6" class="tm"/>
<line x1="242.8" y1="638.6" x2="242.8" y2="639.6" class="tm"/>
<line x1="186.4" y1="639" x2="151.92" y2="765.3" class="br"/>
<line x1="243.4" y1="639" x2="208.81" y2="765.3" class="br"/>
<line x1="152.09" y1="765.1" x2="208.98" y2="765.1" class="hl"/>
<text x="163.53" y="768.6" class="ct">molecular function</text>
<g filter="url(#soft)">
<text transform="translate(38.2,644.2) rotate(-75.2) scale(1,0.72)" class="xl" text-anchor="end">cellular process</text>
<text transform="translate(41.97,644.2) rotate(-75.2) scale(1,0.72)" class="xl" text-anchor="end">metabolic process</text>
<text transform="translate(45.74,644.2) rotate(-75.2) scale(1,0.72)" class="xl" text-anchor="end">single-organism process</text>
<text transform="translate(49.51,644.2) rotate(-75.2) scale(1,0.72)" class="xl" text-anchor="end">biological regulation</text>
<text transform="translate(53.28,644.2) rotate(-75.2) scale(1,0.72)" class="xl" text-anchor="end">response to stimulus</text>
<text transform="translate(57.05,644.2) rotate(-75.2) scale(1,0.72)" class="xl" text-anchor="end">developmental process</text>
<text transform="translate(60.82,644.2) rotate(-75.2) scale(1,0.72)" class="xl" text-anchor="end">cellular component organization or biogenesis</text>
<text transform="translate(64.59,644.2) rotate(-75.2) scale(1,0.72)" class="xl" text-anchor="end">localization</text>
<text transform="translate(68.36,644.2) rotate(-75.2) scale(1,0.72)" class="xl" text-anchor="end">reproductive process</text>
<text transform="translate(72.13,644.2) rotate(-75.2) scale(1,0.72)" class="xl" text-anchor="end">signaling</text>
<text transform="translate(75.9,644.2) rotate(-75.2) scale(1,0.72)" class="xl" text-anchor="end">multicellular organismal process</text>
<text transform="translate(79.67,644.2) rotate(-75.2) scale(1,0.72)" class="xl" text-anchor="end">reproduction</text>
<text transform="translate(83.44,644.2) rotate(-75.2) scale(1,0.72)" class="xl" text-anchor="end">multi-organism process</text>
<text transform="translate(87.21,644.2) rotate(-75.2) scale(1,0.72)" class="xl" text-anchor="end">immune system process</text>
<text transform="translate(90.98,644.2) rotate(-75.2) scale(1,0.72)" class="xl" text-anchor="end">growth</text>
<text transform="translate(94.75,644.2) rotate(-75.2) scale(1,0.72)" class="xl" text-anchor="end">rhythmic process</text>
<text transform="translate(98.51,644.2) rotate(-75.2) scale(1,0.72)" class="xl" text-anchor="end">detoxification</text>
<text transform="translate(102.28,644.2) rotate(-75.2) scale(1,0.72)" class="xl" text-anchor="end">locomotion</text>
<text transform="translate(106.05,644.2) rotate(-75.2) scale(1,0.72)" class="xl" text-anchor="end">biological adhesion</text>
<text transform="translate(109.82,644.2) rotate(-75.2) scale(1,0.72)" class="xl" text-anchor="end">cell killing</text>
<text transform="translate(113.59,644.2) rotate(-75.2) scale(1,0.72)" class="xl" text-anchor="end">presynaptic process involved in chemical synaptic transmission</text>
<text transform="translate(117.17,644.2) rotate(-75.2) scale(1,0.72)" class="xl" text-anchor="end">cell</text>
<text transform="translate(120.92,644.2) rotate(-75.2) scale(1,0.72)" class="xl" text-anchor="end">cell part</text>
<text transform="translate(124.67,644.2) rotate(-75.2) scale(1,0.72)" class="xl" text-anchor="end">organelle</text>
<text transform="translate(128.42,644.2) rotate(-75.2) scale(1,0.72)" class="xl" text-anchor="end">membrane</text>
<text transform="translate(132.17,644.2) rotate(-75.2) scale(1,0.72)" class="xl" text-anchor="end">organelle part</text>
<text transform="translate(135.92,644.2) rotate(-75.2) scale(1,0.72)" class="xl" text-anchor="end">membrane part</text>
<text transform="translate(139.67,644.2) rotate(-75.2) scale(1,0.72)" class="xl" text-anchor="end">macromolecular complex</text>
<text transform="translate(143.42,644.2) rotate(-75.2) scale(1,0.72)" class="xl" text-anchor="end">extracellular region</text>
<text transform="translate(147.17,644.2) rotate(-75.2) scale(1,0.72)" class="xl" text-anchor="end">membrane-enclosed lumen</text>
<text transform="translate(150.92,644.2) rotate(-75.2) scale(1,0.72)" class="xl" text-anchor="end">cell junction</text>
<text transform="translate(154.67,644.2) rotate(-75.2) scale(1,0.72)" class="xl" text-anchor="end">symplast</text>
<text transform="translate(158.42,644.2) rotate(-75.2) scale(1,0.72)" class="xl" text-anchor="end">synapse</text>
<text transform="translate(162.17,644.2) rotate(-75.2) scale(1,0.72)" class="xl" text-anchor="end">supramolecular fiber</text>
<text transform="translate(165.92,644.2) rotate(-75.2) scale(1,0.72)" class="xl" text-anchor="end">extracellular matrix</text>
<text transform="translate(169.67,644.2) rotate(-75.2) scale(1,0.72)" class="xl" text-anchor="end">synapse part</text>
<text transform="translate(173.42,644.2) rotate(-75.2) scale(1,0.72)" class="xl" text-anchor="end">nucleoid</text>
<text transform="translate(177.17,644.2) rotate(-75.2) scale(1,0.72)" class="xl" text-anchor="end">virion</text>
<text transform="translate(180.92,644.2) rotate(-75.2) scale(1,0.72)" class="xl" text-anchor="end">virion part</text>
<text transform="translate(184.91,644.2) rotate(-75.2) scale(1,0.72)" class="xl" text-anchor="end">binding</text>
<text transform="translate(188.67,644.2) rotate(-75.2) scale(1,0.72)" class="xl" text-anchor="end">catalytic activity</text>
<text transform="translate(192.42,644.2) rotate(-75.2) scale(1,0.72)" class="xl" text-anchor="end">transporter activity</text>
<text transform="translate(196.18,644.2) rotate(-75.2) scale(1,0.72)" class="xl" text-anchor="end">nucleic acid binding transcription factor activity</text>
<text transform="translate(199.94,644.2) rotate(-75.2) scale(1,0.72)" class="xl" text-anchor="end">structural molecule activity</text>
<text transform="translate(203.7,644.2) rotate(-75.2) scale(1,0.72)" class="xl" text-anchor="end">molecular function regulator</text>
<text transform="translate(207.46,644.2) rotate(-75.2) scale(1,0.72)" class="xl" text-anchor="end">electron carrier activity</text>
<text transform="translate(211.22,644.2) rotate(-75.2) scale(1,0.72)" class="xl" text-anchor="end">molecular transducer activity</text>
<text transform="translate(214.98,644.2) rotate(-75.2) scale(1,0.72)" class="xl" text-anchor="end">signal transducer activity</text>
<text transform="translate(218.74,644.2) rotate(-75.2) scale(1,0.72)" class="xl" text-anchor="end">antioxidant activity</text>
<text transform="translate(222.5,644.2) rotate(-75.2) scale(1,0.72)" class="xl" text-anchor="end">transcription factor activity, protein binding</text>
<text transform="translate(226.26,644.2) rotate(-75.2) scale(1,0.72)" class="xl" text-anchor="end">nutrient reservoir activity</text>
<text transform="translate(230.02,644.2) rotate(-75.2) scale(1,0.72)" class="xl" text-anchor="end">translation regulator activity</text>
<text transform="translate(233.78,644.2) rotate(-75.2) scale(1,0.72)" class="xl" text-anchor="end">metallochaperone activity</text>
<text transform="translate(237.54,644.2) rotate(-75.2) scale(1,0.72)" class="xl" text-anchor="end">toxin activity</text>
<text transform="translate(241.3,644.2) rotate(-75.2) scale(1,0.72)" class="xl" text-anchor="end">protein tag</text>
</g>
</g>
<g>
<text x="312.4" y="602.3" font-size="11.5" font-weight="normal" class="lt2">d</text>
<line x1="303.42" y1="600.3" x2="303.42" y2="638.6" class="ax"/>
<line x1="303.42" y1="638.6" x2="525.9" y2="638.6" class="ax"/>
<line x1="525.9" y1="599.5" x2="525.9" y2="638.6" class="axr"/>
<text x="300.94" y="601.6" class="tk" text-anchor="end">100</text>
<line x1="302.42" y1="600.3" x2="303.42" y2="600.3" class="ax"/>
<text x="300.94" y="614.37" class="tk" text-anchor="end">10</text>
<line x1="302.42" y1="613.07" x2="303.42" y2="613.07" class="ax"/>
<text x="300.94" y="627.13" class="tk" text-anchor="end">1</text>
<line x1="302.42" y1="625.83" x2="303.42" y2="625.83" class="ax"/>
<text x="300.94" y="639.9" class="tk" text-anchor="end">0.1</text>
<line x1="302.42" y1="638.6" x2="303.42" y2="638.6" class="ax"/>
<text transform="translate(295.1,623.1) rotate(-90)" class="yt" text-anchor="middle">Percentage of genes</text>
<text x="528.1" y="600.7" class="rb">11,788</text>
<text x="528.1" y="603.9" class="rk">24,865</text>
<text x="528.1" y="613.47" class="rb">1178</text>
<text x="528.1" y="616.67" class="rk">2486</text>
<text x="528.1" y="626.23" class="rb">117</text>
<text x="528.1" y="629.43" class="rk">248</text>
<text x="528.1" y="639" class="rb">11</text>
<text x="528.1" y="642.2" class="rk">24</text>
<text transform="translate(541.2,622.1) rotate(-90)" class="yt" text-anchor="middle">Number of genes</text>
<rect x="505.7" y="597.7" width="3.3" height="3" fill="#ee1c25"/>
<rect x="505.7" y="600.7" width="3.3" height="2.4" fill="#f7b0b4"/>
<rect x="509.25" y="597.7" width="3.3" height="3" fill="#2ca02c"/>
<rect x="509.25" y="600.7" width="3.3" height="2.4" fill="#b6e6a6"/>
<rect x="512.8" y="597.7" width="3.3" height="3" fill="#1f78c1"/>
<rect x="512.8" y="600.7" width="3.3" height="2.4" fill="#a9cdee"/>
<text x="516.9" y="600" class="rb">Diff</text>
<text x="517.5" y="602.7" class="rk">All</text>
<rect x="314.41" y="606.4" width="1.6" height="32.2" fill="#f9c4c4"/>
<rect x="312.51" y="605.2" width="2.0" height="33.4" fill="#ee1c25"/>
<rect x="318.17" y="606.6" width="1.6" height="32" fill="#f9c4c4"/>
<rect x="316.27" y="605.4" width="2.0" height="33.2" fill="#ee1c25"/>
<rect x="321.92" y="608.8" width="1.6" height="29.8" fill="#f9c4c4"/>
<rect x="320.02" y="607.6" width="2.0" height="31" fill="#ee1c25"/>
<rect x="325.67" y="610.4" width="1.6" height="28.2" fill="#f9c4c4"/>
<rect x="323.77" y="609.2" width="2.0" height="29.4" fill="#ee1c25"/>
<rect x="329.42" y="613.9" width="1.6" height="24.7" fill="#f9c4c4"/>
<rect x="327.52" y="612.7" width="2.0" height="25.9" fill="#ee1c25"/>
<rect x="333.18" y="614.2" width="1.6" height="24.4" fill="#f9c4c4"/>
<rect x="331.28" y="613" width="2.0" height="25.6" fill="#ee1c25"/>
<rect x="336.93" y="615.3" width="1.6" height="23.3" fill="#f9c4c4"/>
<rect x="335.03" y="614.1" width="2.0" height="24.5" fill="#ee1c25"/>
<rect x="340.68" y="619.5" width="1.6" height="19.1" fill="#f9c4c4"/>
<rect x="338.78" y="618.3" width="2.0" height="20.3" fill="#ee1c25"/>
<rect x="344.43" y="620.5" width="1.6" height="18.1" fill="#f9c4c4"/>
<rect x="342.53" y="619.3" width="2.0" height="19.3" fill="#ee1c25"/>
<rect x="348.18" y="623.3" width="1.6" height="15.3" fill="#f9c4c4"/>
<rect x="346.28" y="622.1" width="2.0" height="16.5" fill="#ee1c25"/>
<rect x="351.94" y="623.1" width="1.6" height="15.5" fill="#f9c4c4"/>
<rect x="350.04" y="621.9" width="2.0" height="16.7" fill="#ee1c25"/>
<rect x="355.69" y="623.3" width="1.6" height="15.3" fill="#f9c4c4"/>
<rect x="353.79" y="622.1" width="2.0" height="16.5" fill="#ee1c25"/>
<rect x="359.44" y="626.2" width="1.6" height="12.4" fill="#f9c4c4"/>
<rect x="357.54" y="625" width="2.0" height="13.6" fill="#ee1c25"/>
<rect x="363.19" y="628.9" width="1.6" height="9.7" fill="#f9c4c4"/>
<rect x="361.29" y="627.7" width="2.0" height="10.9" fill="#ee1c25"/>
<rect x="366.94" y="634.3" width="1.6" height="4.3" fill="#f9c4c4"/>
<rect x="365.04" y="633.1" width="2.0" height="5.5" fill="#ee1c25"/>
<rect x="370.7" y="633.5" width="1.6" height="5.1" fill="#f9c4c4"/>
<rect x="368.8" y="632.3" width="2.0" height="6.3" fill="#ee1c25"/>
<rect x="374.45" y="638.3" width="1.6" height="0.3" fill="#f9c4c4"/>
<rect x="372.55" y="638.1" width="2.0" height="0.5" fill="#ee1c25"/>
<line x1="313.51" y1="638.6" x2="313.51" y2="639.6" class="tm"/>
<line x1="317.27" y1="638.6" x2="317.27" y2="639.6" class="tm"/>
<line x1="321.02" y1="638.6" x2="321.02" y2="639.6" class="tm"/>
<line x1="324.77" y1="638.6" x2="324.77" y2="639.6" class="tm"/>
<line x1="328.52" y1="638.6" x2="328.52" y2="639.6" class="tm"/>
<line x1="332.28" y1="638.6" x2="332.28" y2="639.6" class="tm"/>
<line x1="336.03" y1="638.6" x2="336.03" y2="639.6" class="tm"/>
<line x1="339.78" y1="638.6" x2="339.78" y2="639.6" class="tm"/>
<line x1="343.53" y1="638.6" x2="343.53" y2="639.6" class="tm"/>
<line x1="347.28" y1="638.6" x2="347.28" y2="639.6" class="tm"/>
<line x1="351.04" y1="638.6" x2="351.04" y2="639.6" class="tm"/>
<line x1="354.79" y1="638.6" x2="354.79" y2="639.6" class="tm"/>
<line x1="358.54" y1="638.6" x2="358.54" y2="639.6" class="tm"/>
<line x1="362.29" y1="638.6" x2="362.29" y2="639.6" class="tm"/>
<line x1="366.04" y1="638.6" x2="366.04" y2="639.6" class="tm"/>
<line x1="369.8" y1="638.6" x2="369.8" y2="639.6" class="tm"/>
<line x1="373.55" y1="638.6" x2="373.55" y2="639.6" class="tm"/>
<line x1="377.3" y1="638.6" x2="377.3" y2="639.6" class="tm"/>
<line x1="381.05" y1="638.6" x2="381.05" y2="639.6" class="tm"/>
<line x1="384.8" y1="638.6" x2="384.8" y2="639.6" class="tm"/>
<line x1="388.56" y1="638.6" x2="388.56" y2="639.6" class="tm"/>
<line x1="304.68" y1="670.6" x2="289.4" y2="726.57" class="br"/>
<line x1="289.4" y1="765.1" x2="355" y2="765.1" class="hl"/>
<text x="300.55" y="768.6" class="ct">biological process</text>
<rect x="393.02" y="606" width="1.6" height="32.6" fill="#cdeebc"/>
<rect x="391.12" y="604.8" width="2.0" height="33.8" fill="#2ca02c"/>
<rect x="396.75" y="606" width="1.6" height="32.6" fill="#cdeebc"/>
<rect x="394.85" y="604.8" width="2.0" height="33.8" fill="#2ca02c"/>
<rect x="400.49" y="607.8" width="1.6" height="30.8" fill="#cdeebc"/>
<rect x="398.59" y="606.6" width="2.0" height="32" fill="#2ca02c"/>
<rect x="404.22" y="608.6" width="1.6" height="30" fill="#cdeebc"/>
<rect x="402.32" y="607.4" width="2.0" height="31.2" fill="#2ca02c"/>
<rect x="407.95" y="609.7" width="1.6" height="28.9" fill="#cdeebc"/>
<rect x="406.05" y="608.5" width="2.0" height="30.1" fill="#2ca02c"/>
<rect x="411.68" y="613.3" width="1.6" height="25.3" fill="#cdeebc"/>
<rect x="409.78" y="612.1" width="2.0" height="26.5" fill="#2ca02c"/>
<rect x="415.41" y="614" width="1.6" height="24.6" fill="#cdeebc"/>
<rect x="413.51" y="612.8" width="2.0" height="25.8" fill="#2ca02c"/>
<rect x="419.15" y="624.1" width="1.6" height="14.5" fill="#cdeebc"/>
<rect x="417.25" y="622.9" width="2.0" height="15.7" fill="#2ca02c"/>
<rect x="422.88" y="621.9" width="1.6" height="16.7" fill="#cdeebc"/>
<rect x="420.98" y="620.7" width="2.0" height="17.9" fill="#2ca02c"/>
<rect x="426.61" y="628.2" width="1.6" height="10.4" fill="#cdeebc"/>
<rect x="424.71" y="627" width="2.0" height="11.6" fill="#2ca02c"/>
<rect x="430.34" y="628.2" width="1.6" height="10.4" fill="#cdeebc"/>
<rect x="428.44" y="627" width="2.0" height="11.6" fill="#2ca02c"/>
<rect x="434.08" y="628.2" width="1.6" height="10.4" fill="#cdeebc"/>
<rect x="432.18" y="627" width="2.0" height="11.6" fill="#2ca02c"/>
<rect x="437.81" y="628.5" width="1.6" height="10.1" fill="#cdeebc"/>
<rect x="435.91" y="627.3" width="2.0" height="11.3" fill="#2ca02c"/>
<rect x="441.54" y="635" width="1.6" height="3.6" fill="#cdeebc"/>
<rect x="439.64" y="633.8" width="2.0" height="4.8" fill="#2ca02c"/>
<rect x="445.27" y="636" width="1.6" height="2.6" fill="#cdeebc"/>
<rect x="443.37" y="634.8" width="2.0" height="3.8" fill="#2ca02c"/>
<line x1="392.12" y1="638.6" x2="392.12" y2="639.6" class="tm"/>
<line x1="395.85" y1="638.6" x2="395.85" y2="639.6" class="tm"/>
<line x1="399.59" y1="638.6" x2="399.59" y2="639.6" class="tm"/>
<line x1="403.32" y1="638.6" x2="403.32" y2="639.6" class="tm"/>
<line x1="407.05" y1="638.6" x2="407.05" y2="639.6" class="tm"/>
<line x1="410.78" y1="638.6" x2="410.78" y2="639.6" class="tm"/>
<line x1="414.51" y1="638.6" x2="414.51" y2="639.6" class="tm"/>
<line x1="418.25" y1="638.6" x2="418.25" y2="639.6" class="tm"/>
<line x1="421.98" y1="638.6" x2="421.98" y2="639.6" class="tm"/>
<line x1="425.71" y1="638.6" x2="425.71" y2="639.6" class="tm"/>
<line x1="429.44" y1="638.6" x2="429.44" y2="639.6" class="tm"/>
<line x1="433.18" y1="638.6" x2="433.18" y2="639.6" class="tm"/>
<line x1="436.91" y1="638.6" x2="436.91" y2="639.6" class="tm"/>
<line x1="440.64" y1="638.6" x2="440.64" y2="639.6" class="tm"/>
<line x1="444.37" y1="638.6" x2="444.37" y2="639.6" class="tm"/>
<line x1="448.11" y1="638.6" x2="448.11" y2="639.6" class="tm"/>
<line x1="451.84" y1="638.6" x2="451.84" y2="639.6" class="tm"/>
<line x1="455.57" y1="638.6" x2="455.57" y2="639.6" class="tm"/>
<line x1="392.11" y1="639" x2="357.63" y2="765.3" class="br"/>
<line x1="455.78" y1="639" x2="421.19" y2="765.3" class="br"/>
<line x1="358.46" y1="765.1" x2="421.52" y2="765.1" class="hl"/>
<text x="372.62" y="768.6" class="ct">cellular component</text>
<rect x="460.44" y="605.4" width="1.6" height="33.2" fill="#bfdaf0"/>
<rect x="458.54" y="604.2" width="2.0" height="34.4" fill="#1f78c1"/>
<rect x="464.18" y="606.4" width="1.6" height="32.2" fill="#bfdaf0"/>
<rect x="462.28" y="605.2" width="2.0" height="33.4" fill="#1f78c1"/>
<rect x="467.92" y="617.5" width="1.6" height="21.1" fill="#bfdaf0"/>
<rect x="466.02" y="616.3" width="2.0" height="22.3" fill="#1f78c1"/>
<rect x="471.67" y="618.3" width="1.6" height="20.3" fill="#bfdaf0"/>
<rect x="469.77" y="617.1" width="2.0" height="21.5" fill="#1f78c1"/>
<rect x="475.41" y="623.4" width="1.6" height="15.2" fill="#bfdaf0"/>
<rect x="473.51" y="622.2" width="2.0" height="16.4" fill="#1f78c1"/>
<rect x="479.15" y="624.3" width="1.6" height="14.3" fill="#bfdaf0"/>
<rect x="477.25" y="623.1" width="2.0" height="15.5" fill="#1f78c1"/>
<rect x="482.89" y="626.4" width="1.6" height="12.2" fill="#bfdaf0"/>
<rect x="480.99" y="625.2" width="2.0" height="13.4" fill="#1f78c1"/>
<rect x="486.64" y="626.4" width="1.6" height="12.2" fill="#bfdaf0"/>
<rect x="484.74" y="625.2" width="2.0" height="13.4" fill="#1f78c1"/>
<rect x="490.38" y="629.4" width="1.6" height="9.2" fill="#bfdaf0"/>
<rect x="488.48" y="628.2" width="2.0" height="10.4" fill="#1f78c1"/>
<rect x="494.12" y="629.4" width="1.6" height="9.2" fill="#bfdaf0"/>
<rect x="492.22" y="628.2" width="2.0" height="10.4" fill="#1f78c1"/>
<rect x="497.86" y="628.5" width="1.6" height="10.1" fill="#bfdaf0"/>
<rect x="495.96" y="627.3" width="2.0" height="11.3" fill="#1f78c1"/>
<rect x="501.6" y="636.6" width="1.6" height="2" fill="#bfdaf0"/>
<rect x="499.7" y="635.4" width="2.0" height="3.2" fill="#1f78c1"/>
<line x1="459.54" y1="638.6" x2="459.54" y2="639.6" class="tm"/>
<line x1="463.28" y1="638.6" x2="463.28" y2="639.6" class="tm"/>
<line x1="467.02" y1="638.6" x2="467.02" y2="639.6" class="tm"/>
<line x1="470.77" y1="638.6" x2="470.77" y2="639.6" class="tm"/>
<line x1="474.51" y1="638.6" x2="474.51" y2="639.6" class="tm"/>
<line x1="478.25" y1="638.6" x2="478.25" y2="639.6" class="tm"/>
<line x1="481.99" y1="638.6" x2="481.99" y2="639.6" class="tm"/>
<line x1="485.74" y1="638.6" x2="485.74" y2="639.6" class="tm"/>
<line x1="489.48" y1="638.6" x2="489.48" y2="639.6" class="tm"/>
<line x1="493.22" y1="638.6" x2="493.22" y2="639.6" class="tm"/>
<line x1="496.96" y1="638.6" x2="496.96" y2="639.6" class="tm"/>
<line x1="500.7" y1="638.6" x2="500.7" y2="639.6" class="tm"/>
<line x1="504.45" y1="638.6" x2="504.45" y2="639.6" class="tm"/>
<line x1="508.19" y1="638.6" x2="508.19" y2="639.6" class="tm"/>
<line x1="511.93" y1="638.6" x2="511.93" y2="639.6" class="tm"/>
<line x1="515.67" y1="638.6" x2="515.67" y2="639.6" class="tm"/>
<line x1="459.53" y1="639" x2="425.05" y2="765.3" class="br"/>
<line x1="516.27" y1="639" x2="481.68" y2="765.3" class="br"/>
<line x1="425.38" y1="765.1" x2="482.01" y2="765.1" class="hl"/>
<text x="436.77" y="768.6" class="ct">molecular function</text>
<g filter="url(#soft)">
<text transform="translate(312.01,644.2) rotate(-75.2) scale(1,0.72)" class="xl" text-anchor="end">cellular process</text>
<text transform="translate(315.77,644.2) rotate(-75.2) scale(1,0.72)" class="xl" text-anchor="end">metabolic process</text>
<text transform="translate(319.52,644.2) rotate(-75.2) scale(1,0.72)" class="xl" text-anchor="end">single-organism process</text>
<text transform="translate(323.27,644.2) rotate(-75.2) scale(1,0.72)" class="xl" text-anchor="end">biological regulation</text>
<text transform="translate(327.02,644.2) rotate(-75.2) scale(1,0.72)" class="xl" text-anchor="end">response to stimulus</text>
<text transform="translate(330.78,644.2) rotate(-75.2) scale(1,0.72)" class="xl" text-anchor="end">developmental process</text>
<text transform="translate(334.53,644.2) rotate(-75.2) scale(1,0.72)" class="xl" text-anchor="end">cellular component organization or biogenesis</text>
<text transform="translate(338.28,644.2) rotate(-75.2) scale(1,0.72)" class="xl" text-anchor="end">localization</text>
<text transform="translate(342.03,644.2) rotate(-75.2) scale(1,0.72)" class="xl" text-anchor="end">reproductive process</text>
<text transform="translate(345.78,644.2) rotate(-75.2) scale(1,0.72)" class="xl" text-anchor="end">signaling</text>
<text transform="translate(349.54,644.2) rotate(-75.2) scale(1,0.72)" class="xl" text-anchor="end">multicellular organismal process</text>
<text transform="translate(353.29,644.2) rotate(-75.2) scale(1,0.72)" class="xl" text-anchor="end">reproduction</text>
<text transform="translate(357.04,644.2) rotate(-75.2) scale(1,0.72)" class="xl" text-anchor="end">multi-organism process</text>
<text transform="translate(360.79,644.2) rotate(-75.2) scale(1,0.72)" class="xl" text-anchor="end">immune system process</text>
<text transform="translate(364.54,644.2) rotate(-75.2) scale(1,0.72)" class="xl" text-anchor="end">growth</text>
<text transform="translate(368.3,644.2) rotate(-75.2) scale(1,0.72)" class="xl" text-anchor="end">rhythmic process</text>
<text transform="translate(372.05,644.2) rotate(-75.2) scale(1,0.72)" class="xl" text-anchor="end">detoxification</text>
<text transform="translate(375.8,644.2) rotate(-75.2) scale(1,0.72)" class="xl" text-anchor="end">locomotion</text>
<text transform="translate(379.55,644.2) rotate(-75.2) scale(1,0.72)" class="xl" text-anchor="end">biological adhesion</text>
<text transform="translate(383.3,644.2) rotate(-75.2) scale(1,0.72)" class="xl" text-anchor="end">cell killing</text>
<text transform="translate(387.06,644.2) rotate(-75.2) scale(1,0.72)" class="xl" text-anchor="end">presynaptic process involved in chemical synaptic transmission</text>
<text transform="translate(390.62,644.2) rotate(-75.2) scale(1,0.72)" class="xl" text-anchor="end">cell</text>
<text transform="translate(394.35,644.2) rotate(-75.2) scale(1,0.72)" class="xl" text-anchor="end">cell part</text>
<text transform="translate(398.09,644.2) rotate(-75.2) scale(1,0.72)" class="xl" text-anchor="end">organelle</text>
<text transform="translate(401.82,644.2) rotate(-75.2) scale(1,0.72)" class="xl" text-anchor="end">membrane</text>
<text transform="translate(405.55,644.2) rotate(-75.2) scale(1,0.72)" class="xl" text-anchor="end">organelle part</text>
<text transform="translate(409.28,644.2) rotate(-75.2) scale(1,0.72)" class="xl" text-anchor="end">membrane part</text>
<text transform="translate(413.01,644.2) rotate(-75.2) scale(1,0.72)" class="xl" text-anchor="end">macromolecular complex</text>
<text transform="translate(416.75,644.2) rotate(-75.2) scale(1,0.72)" class="xl" text-anchor="end">extracellular region</text>
<text transform="translate(420.48,644.2) rotate(-75.2) scale(1,0.72)" class="xl" text-anchor="end">membrane-enclosed lumen</text>
<text transform="translate(424.21,644.2) rotate(-75.2) scale(1,0.72)" class="xl" text-anchor="end">cell junction</text>
<text transform="translate(427.94,644.2) rotate(-75.2) scale(1,0.72)" class="xl" text-anchor="end">symplast</text>
<text transform="translate(431.68,644.2) rotate(-75.2) scale(1,0.72)" class="xl" text-anchor="end">synapse</text>
<text transform="translate(435.41,644.2) rotate(-75.2) scale(1,0.72)" class="xl" text-anchor="end">supramolecular fiber</text>
<text transform="translate(439.14,644.2) rotate(-75.2) scale(1,0.72)" class="xl" text-anchor="end">extracellular matrix</text>
<text transform="translate(442.87,644.2) rotate(-75.2) scale(1,0.72)" class="xl" text-anchor="end">synapse part</text>
<text transform="translate(446.61,644.2) rotate(-75.2) scale(1,0.72)" class="xl" text-anchor="end">nucleoid</text>
<text transform="translate(450.34,644.2) rotate(-75.2) scale(1,0.72)" class="xl" text-anchor="end">virion</text>
<text transform="translate(454.07,644.2) rotate(-75.2) scale(1,0.72)" class="xl" text-anchor="end">virion part</text>
<text transform="translate(458.04,644.2) rotate(-75.2) scale(1,0.72)" class="xl" text-anchor="end">binding</text>
<text transform="translate(461.78,644.2) rotate(-75.2) scale(1,0.72)" class="xl" text-anchor="end">catalytic activity</text>
<text transform="translate(465.52,644.2) rotate(-75.2) scale(1,0.72)" class="xl" text-anchor="end">transporter activity</text>
<text transform="translate(469.27,644.2) rotate(-75.2) scale(1,0.72)" class="xl" text-anchor="end">nucleic acid binding transcription factor activity</text>
<text transform="translate(473.01,644.2) rotate(-75.2) scale(1,0.72)" class="xl" text-anchor="end">structural molecule activity</text>
<text transform="translate(476.75,644.2) rotate(-75.2) scale(1,0.72)" class="xl" text-anchor="end">molecular function regulator</text>
<text transform="translate(480.49,644.2) rotate(-75.2) scale(1,0.72)" class="xl" text-anchor="end">electron carrier activity</text>
<text transform="translate(484.24,644.2) rotate(-75.2) scale(1,0.72)" class="xl" text-anchor="end">molecular transducer activity</text>
<text transform="translate(487.98,644.2) rotate(-75.2) scale(1,0.72)" class="xl" text-anchor="end">signal transducer activity</text>
<text transform="translate(491.72,644.2) rotate(-75.2) scale(1,0.72)" class="xl" text-anchor="end">antioxidant activity</text>
<text transform="translate(495.46,644.2) rotate(-75.2) scale(1,0.72)" class="xl" text-anchor="end">transcription factor activity, protein binding</text>
<text transform="translate(499.2,644.2) rotate(-75.2) scale(1,0.72)" class="xl" text-anchor="end">nutrient reservoir activity</text>
<text transform="translate(502.95,644.2) rotate(-75.2) scale(1,0.72)" class="xl" text-anchor="end">translation regulator activity</text>
<text transform="translate(506.69,644.2) rotate(-75.2) scale(1,0.72)" class="xl" text-anchor="end">metallochaperone activity</text>
<text transform="translate(510.43,644.2) rotate(-75.2) scale(1,0.72)" class="xl" text-anchor="end">toxin activity</text>
<text transform="translate(514.17,644.2) rotate(-75.2) scale(1,0.72)" class="xl" text-anchor="end">protein tag</text>
</g>
</g>
<text x="278.9" y="397.2" class="big" text-anchor="middle">(A)</text>
<text x="278.6" y="783.4" class="big" style="font-size:12.6px" text-anchor="middle">(B)</text>
</svg>
</body></html>
